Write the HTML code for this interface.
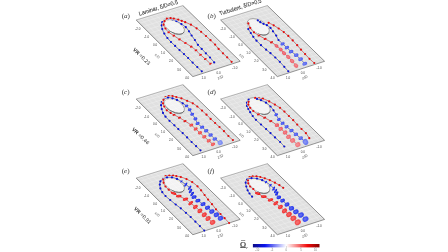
<!DOCTYPE html>
<html><head><meta charset="utf-8"><style>html,body{margin:0;padding:0;background:#fff}body{width:448px;height:252px;overflow:hidden}svg{display:block}</style></head>
<body><svg width="448" height="252" viewBox="0 0 448 252">
<rect width="448" height="252" fill="#fff"/>
<polygon points="136.2,20 182.9,5.6 240.2,61.3 192.9,76.6" fill="#e0e0e0"/>
<path d="M140.87,18.56L197.63,75.07M145.54,17.12L202.36,73.54M150.21,15.68L207.09,72.01M154.88,14.24L211.82,70.48M159.55,12.8L216.55,68.95M164.22,11.36L221.28,67.42M168.89,9.92L226.01,65.89M173.56,8.48L230.74,64.36M178.23,7.04L235.47,62.83M139.54,23.33L186.27,8.88M142.87,26.66L189.64,12.15M146.21,29.99L193.01,15.43M149.54,33.32L196.38,18.71M152.88,36.65L199.75,21.98M156.21,39.98L203.12,25.26M159.55,43.31L206.49,28.54M162.88,46.64L209.86,31.81M166.22,49.96L213.24,35.09M169.55,53.29L216.61,38.36M172.89,56.62L219.98,41.64M176.22,59.95L223.35,44.92M179.56,63.28L226.72,48.19M182.89,66.61L230.09,51.47M186.23,69.94L233.46,54.75M189.56,73.27L236.83,58.02" stroke="#eeeeee" stroke-width="0.55" fill="none"/>
<path d="M137.46,20.65L183,6.6L238.92,60.97" stroke="#eeeeee" stroke-width="0.7" fill="none"/>
<path d="M136.2,20L182.9,5.6" stroke="#9a9a9a" stroke-width="0.7" fill="none"/>
<path d="M182.9,5.6L240.2,61.3" stroke="#7a7a7a" stroke-width="0.85" fill="none"/>
<path d="M136.2,20L192.9,76.6" stroke="#555" stroke-width="0.7" fill="none"/>
<path d="M192.9,76.6L240.2,61.3" stroke="#6a6a6a" stroke-width="0.7" fill="none"/>
<g transform="translate(174.3 26.9) rotate(27)"><ellipse rx="11" ry="6" fill="#ffffff" fill-opacity="0.6" stroke="#7c7c7c" stroke-width="0.6"/><path d="M11,0 A11,6 0 0 1 -7.81,4.26" fill="none" stroke="#666" stroke-width="0.75"/></g>
<polygon points="220.6,20 267.3,5.6 324.6,61.3 277.3,76.6" fill="#e0e0e0"/>
<path d="M225.27,18.56L282.03,75.07M229.94,17.12L286.76,73.54M234.61,15.68L291.49,72.01M239.28,14.24L296.22,70.48M243.95,12.8L300.95,68.95M248.62,11.36L305.68,67.42M253.29,9.92L310.41,65.89M257.96,8.48L315.14,64.36M262.63,7.04L319.87,62.83M223.94,23.33L270.67,8.88M227.27,26.66L274.04,12.15M230.61,29.99L277.41,15.43M233.94,33.32L280.78,18.71M237.28,36.65L284.15,21.98M240.61,39.98L287.52,25.26M243.95,43.31L290.89,28.54M247.28,46.64L294.26,31.81M250.62,49.96L297.64,35.09M253.95,53.29L301.01,38.36M257.29,56.62L304.38,41.64M260.62,59.95L307.75,44.92M263.96,63.28L311.12,48.19M267.29,66.61L314.49,51.47M270.63,69.94L317.86,54.75M273.96,73.27L321.23,58.02" stroke="#eeeeee" stroke-width="0.55" fill="none"/>
<path d="M221.86,20.65L267.4,6.6L323.32,60.97" stroke="#eeeeee" stroke-width="0.7" fill="none"/>
<path d="M220.6,20L267.3,5.6" stroke="#9a9a9a" stroke-width="0.7" fill="none"/>
<path d="M267.3,5.6L324.6,61.3" stroke="#7a7a7a" stroke-width="0.85" fill="none"/>
<path d="M220.6,20L277.3,76.6" stroke="#555" stroke-width="0.7" fill="none"/>
<path d="M277.3,76.6L324.6,61.3" stroke="#6a6a6a" stroke-width="0.7" fill="none"/>
<g transform="translate(258.3 26.8) rotate(29)"><ellipse rx="12.1" ry="6.6" fill="#ffffff" fill-opacity="0.6" stroke="#7c7c7c" stroke-width="0.6"/><path d="M12.1,0 A12.1,6.6 0 0 1 -8.59,4.69" fill="none" stroke="#666" stroke-width="0.75"/></g>
<polygon points="136.2,99.05 182.9,84.65 240.2,140.35 192.9,155.65" fill="#e0e0e0"/>
<path d="M140.87,97.61L197.63,154.12M145.54,96.17L202.36,152.59M150.21,94.73L207.09,151.06M154.88,93.29L211.82,149.53M159.55,91.85L216.55,148M164.22,90.41L221.28,146.47M168.89,88.97L226.01,144.94M173.56,87.53L230.74,143.41M178.23,86.09L235.47,141.88M139.54,102.38L186.27,87.93M142.87,105.71L189.64,91.2M146.21,109.04L193.01,94.48M149.54,112.37L196.38,97.76M152.88,115.7L199.75,101.03M156.21,119.03L203.12,104.31M159.55,122.36L206.49,107.59M162.88,125.69L209.86,110.86M166.22,129.01L213.24,114.14M169.55,132.34L216.61,117.41M172.89,135.67L219.98,120.69M176.22,139L223.35,123.97M179.56,142.33L226.72,127.24M182.89,145.66L230.09,130.52M186.23,148.99L233.46,133.8M189.56,152.32L236.83,137.07" stroke="#eeeeee" stroke-width="0.55" fill="none"/>
<path d="M137.46,99.7L183,85.65L238.92,140.02" stroke="#eeeeee" stroke-width="0.7" fill="none"/>
<path d="M136.2,99.05L182.9,84.65" stroke="#9a9a9a" stroke-width="0.7" fill="none"/>
<path d="M182.9,84.65L240.2,140.35" stroke="#7a7a7a" stroke-width="0.85" fill="none"/>
<path d="M136.2,99.05L192.9,155.65" stroke="#555" stroke-width="0.7" fill="none"/>
<path d="M192.9,155.65L240.2,140.35" stroke="#6a6a6a" stroke-width="0.7" fill="none"/>
<g transform="translate(174.3 105.95) rotate(27)"><ellipse rx="11" ry="6" fill="#ffffff" fill-opacity="0.6" stroke="#7c7c7c" stroke-width="0.6"/><path d="M11,0 A11,6 0 0 1 -7.81,4.26" fill="none" stroke="#666" stroke-width="0.75"/></g>
<polygon points="220.6,99.05 267.3,84.65 324.6,140.35 277.3,155.65" fill="#e0e0e0"/>
<path d="M225.27,97.61L282.03,154.12M229.94,96.17L286.76,152.59M234.61,94.73L291.49,151.06M239.28,93.29L296.22,149.53M243.95,91.85L300.95,148M248.62,90.41L305.68,146.47M253.29,88.97L310.41,144.94M257.96,87.53L315.14,143.41M262.63,86.09L319.87,141.88M223.94,102.38L270.67,87.93M227.27,105.71L274.04,91.2M230.61,109.04L277.41,94.48M233.94,112.37L280.78,97.76M237.28,115.7L284.15,101.03M240.61,119.03L287.52,104.31M243.95,122.36L290.89,107.59M247.28,125.69L294.26,110.86M250.62,129.01L297.64,114.14M253.95,132.34L301.01,117.41M257.29,135.67L304.38,120.69M260.62,139L307.75,123.97M263.96,142.33L311.12,127.24M267.29,145.66L314.49,130.52M270.63,148.99L317.86,133.8M273.96,152.32L321.23,137.07" stroke="#eeeeee" stroke-width="0.55" fill="none"/>
<path d="M221.86,99.7L267.4,85.65L323.32,140.02" stroke="#eeeeee" stroke-width="0.7" fill="none"/>
<path d="M220.6,99.05L267.3,84.65" stroke="#9a9a9a" stroke-width="0.7" fill="none"/>
<path d="M267.3,84.65L324.6,140.35" stroke="#7a7a7a" stroke-width="0.85" fill="none"/>
<path d="M220.6,99.05L277.3,155.65" stroke="#555" stroke-width="0.7" fill="none"/>
<path d="M277.3,155.65L324.6,140.35" stroke="#6a6a6a" stroke-width="0.7" fill="none"/>
<g transform="translate(258.8 106) rotate(27)"><ellipse rx="12.5" ry="6.9" fill="#ffffff" fill-opacity="0.6" stroke="#7c7c7c" stroke-width="0.6"/><path d="M12.5,0 A12.5,6.9 0 0 1 -8.88,4.9" fill="none" stroke="#666" stroke-width="0.75"/></g>
<polygon points="136.2,178.1 182.9,163.7 240.2,219.4 192.9,234.7" fill="#e0e0e0"/>
<path d="M140.87,176.66L197.63,233.17M145.54,175.22L202.36,231.64M150.21,173.78L207.09,230.11M154.88,172.34L211.82,228.58M159.55,170.9L216.55,227.05M164.22,169.46L221.28,225.52M168.89,168.02L226.01,223.99M173.56,166.58L230.74,222.46M178.23,165.14L235.47,220.93M139.54,181.43L186.27,166.98M142.87,184.76L189.64,170.25M146.21,188.09L193.01,173.53M149.54,191.42L196.38,176.81M152.88,194.75L199.75,180.08M156.21,198.08L203.12,183.36M159.55,201.41L206.49,186.64M162.88,204.74L209.86,189.91M166.22,208.06L213.24,193.19M169.55,211.39L216.61,196.46M172.89,214.72L219.98,199.74M176.22,218.05L223.35,203.02M179.56,221.38L226.72,206.29M182.89,224.71L230.09,209.57M186.23,228.04L233.46,212.85M189.56,231.37L236.83,216.12" stroke="#eeeeee" stroke-width="0.55" fill="none"/>
<path d="M137.46,178.75L183,164.7L238.92,219.07" stroke="#eeeeee" stroke-width="0.7" fill="none"/>
<path d="M136.2,178.1L182.9,163.7" stroke="#9a9a9a" stroke-width="0.7" fill="none"/>
<path d="M182.9,163.7L240.2,219.4" stroke="#7a7a7a" stroke-width="0.85" fill="none"/>
<path d="M136.2,178.1L192.9,234.7" stroke="#555" stroke-width="0.7" fill="none"/>
<path d="M192.9,234.7L240.2,219.4" stroke="#6a6a6a" stroke-width="0.7" fill="none"/>
<g transform="translate(174.3 185) rotate(27)"><ellipse rx="11" ry="6" fill="#ffffff" fill-opacity="0.6" stroke="#7c7c7c" stroke-width="0.6"/><path d="M11,0 A11,6 0 0 1 -7.81,4.26" fill="none" stroke="#666" stroke-width="0.75"/></g>
<polygon points="220.6,178.1 267.3,163.7 324.6,219.4 277.3,234.7" fill="#e0e0e0"/>
<path d="M225.27,176.66L282.03,233.17M229.94,175.22L286.76,231.64M234.61,173.78L291.49,230.11M239.28,172.34L296.22,228.58M243.95,170.9L300.95,227.05M248.62,169.46L305.68,225.52M253.29,168.02L310.41,223.99M257.96,166.58L315.14,222.46M262.63,165.14L319.87,220.93M223.94,181.43L270.67,166.98M227.27,184.76L274.04,170.25M230.61,188.09L277.41,173.53M233.94,191.42L280.78,176.81M237.28,194.75L284.15,180.08M240.61,198.08L287.52,183.36M243.95,201.41L290.89,186.64M247.28,204.74L294.26,189.91M250.62,208.06L297.64,193.19M253.95,211.39L301.01,196.46M257.29,214.72L304.38,199.74M260.62,218.05L307.75,203.02M263.96,221.38L311.12,206.29M267.29,224.71L314.49,209.57M270.63,228.04L317.86,212.85M273.96,231.37L321.23,216.12" stroke="#eeeeee" stroke-width="0.55" fill="none"/>
<path d="M221.86,178.75L267.4,164.7L323.32,219.07" stroke="#eeeeee" stroke-width="0.7" fill="none"/>
<path d="M220.6,178.1L267.3,163.7" stroke="#9a9a9a" stroke-width="0.7" fill="none"/>
<path d="M267.3,163.7L324.6,219.4" stroke="#7a7a7a" stroke-width="0.85" fill="none"/>
<path d="M220.6,178.1L277.3,234.7" stroke="#555" stroke-width="0.7" fill="none"/>
<path d="M277.3,234.7L324.6,219.4" stroke="#6a6a6a" stroke-width="0.7" fill="none"/>
<g transform="translate(258.8 185.2) rotate(28)"><ellipse rx="12.1" ry="6.6" fill="#ffffff" fill-opacity="0.6" stroke="#7c7c7c" stroke-width="0.6"/><path d="M12.1,0 A12.1,6.6 0 0 1 -8.59,4.69" fill="none" stroke="#666" stroke-width="0.75"/></g>
<path d="M214.2,62.4C213.5,61.58 211.38,59.02 210,57.5C208.62,55.98 207.28,54.73 205.9,53.3C204.52,51.87 203.03,50.32 201.7,48.9C200.37,47.48 199.03,46.28 197.9,44.8C196.77,43.32 195.95,41.55 194.9,40C193.85,38.45 192.58,36.95 191.6,35.5C190.62,34.05 189.97,32.68 189,31.3C188.03,29.92 187.07,28.4 185.8,27.2C184.53,26 182.98,25.12 181.4,24.1C179.82,23.08 177.78,21.88 176.3,21.1C174.82,20.32 173.8,19.78 172.5,19.4C171.2,19.02 169.77,18.72 168.5,18.8C167.23,18.88 165.93,19.33 164.9,19.9C163.87,20.47 162.83,21.3 162.3,22.2C161.77,23.1 161.7,24.15 161.7,25.3C161.7,26.45 161.87,27.72 162.3,29.1C162.73,30.48 163.45,32.12 164.3,33.6C165.15,35.08 166.28,36.6 167.4,38C168.52,39.4 169.72,40.68 171,42C172.28,43.32 173.68,44.55 175.1,45.9C176.52,47.25 178.02,48.73 179.5,50.1C180.98,51.47 182.57,52.78 184,54.1C185.43,55.42 186.67,56.58 188.1,58C189.53,59.42 191.07,61.08 192.6,62.6C194.13,64.12 195.77,65.65 197.3,67.1C198.83,68.55 201.05,70.6 201.8,71.3" stroke="#f5f0c4" stroke-width="2.6" fill="none" stroke-linecap="round" stroke-linejoin="round"/>
<path d="M214.2,62.4C213.5,61.58 211.38,59.02 210,57.5C208.62,55.98 207.28,54.73 205.9,53.3C204.52,51.87 203.03,50.32 201.7,48.9C200.37,47.48 199.03,46.28 197.9,44.8C196.77,43.32 195.95,41.55 194.9,40C193.85,38.45 192.58,36.95 191.6,35.5C190.62,34.05 189.97,32.68 189,31.3C188.03,29.92 187.07,28.4 185.8,27.2C184.53,26 182.98,25.12 181.4,24.1C179.82,23.08 177.78,21.88 176.3,21.1C174.82,20.32 173.8,19.78 172.5,19.4C171.2,19.02 169.77,18.72 168.5,18.8C167.23,18.88 165.93,19.33 164.9,19.9C163.87,20.47 162.83,21.3 162.3,22.2C161.77,23.1 161.7,24.15 161.7,25.3C161.7,26.45 161.87,27.72 162.3,29.1C162.73,30.48 163.45,32.12 164.3,33.6C165.15,35.08 166.28,36.6 167.4,38C168.52,39.4 169.72,40.68 171,42C172.28,43.32 173.68,44.55 175.1,45.9C176.52,47.25 178.02,48.73 179.5,50.1C180.98,51.47 182.57,52.78 184,54.1C185.43,55.42 186.67,56.58 188.1,58C189.53,59.42 191.07,61.08 192.6,62.6C194.13,64.12 195.77,65.65 197.3,67.1C198.83,68.55 201.05,70.6 201.8,71.3" stroke="#3848f0" stroke-width="0.85" fill="none"/>
<circle cx="214.2" cy="62.4" r="1.12" fill="#0c14d2"/>
<circle cx="210" cy="57.5" r="1.12" fill="#0c14d2"/>
<circle cx="205.9" cy="53.3" r="1.12" fill="#0c14d2"/>
<circle cx="201.7" cy="48.9" r="1.12" fill="#0c14d2"/>
<circle cx="197.9" cy="44.8" r="1.12" fill="#0c14d2"/>
<circle cx="194.9" cy="40" r="1.12" fill="#0c14d2"/>
<circle cx="191.6" cy="35.5" r="1.12" fill="#0c14d2"/>
<circle cx="189" cy="31.3" r="1.12" fill="#0c14d2"/>
<circle cx="185.8" cy="27.2" r="1.12" fill="#0c14d2"/>
<circle cx="181.4" cy="24.1" r="1.12" fill="#0c14d2"/>
<circle cx="176.3" cy="21.1" r="1.12" fill="#0c14d2"/>
<circle cx="172.5" cy="19.4" r="1.12" fill="#0c14d2"/>
<circle cx="168.5" cy="18.8" r="1.12" fill="#0c14d2"/>
<circle cx="164.9" cy="19.9" r="1.12" fill="#0c14d2"/>
<circle cx="162.3" cy="22.2" r="1.12" fill="#0c14d2"/>
<circle cx="161.7" cy="25.3" r="1.12" fill="#0c14d2"/>
<circle cx="162.3" cy="29.1" r="1.12" fill="#0c14d2"/>
<circle cx="164.3" cy="33.6" r="1.12" fill="#0c14d2"/>
<circle cx="167.4" cy="38" r="1.12" fill="#0c14d2"/>
<circle cx="171" cy="42" r="1.12" fill="#0c14d2"/>
<circle cx="175.1" cy="45.9" r="1.12" fill="#0c14d2"/>
<circle cx="179.5" cy="50.1" r="1.12" fill="#0c14d2"/>
<circle cx="184" cy="54.1" r="1.12" fill="#0c14d2"/>
<circle cx="188.1" cy="58" r="1.12" fill="#0c14d2"/>
<circle cx="192.6" cy="62.6" r="1.12" fill="#0c14d2"/>
<circle cx="197.3" cy="67.1" r="1.12" fill="#0c14d2"/>
<circle cx="201.8" cy="71.3" r="1.12" fill="#0c14d2"/>
<path d="M210.4,63.7C209.55,62.92 206.95,60.48 205.3,59C203.65,57.52 202.05,56.25 200.5,54.8C198.95,53.35 197.55,51.67 196,50.3C194.45,48.93 192.97,47.82 191.2,46.6C189.43,45.38 187.35,44.2 185.4,43C183.45,41.8 181.43,40.63 179.5,39.4C177.57,38.17 175.6,36.78 173.8,35.6C172,34.42 170.08,33.48 168.7,32.3C167.32,31.12 166.35,29.77 165.5,28.5C164.65,27.23 163.77,25.92 163.6,24.7C163.43,23.48 163.97,22.22 164.5,21.2C165.03,20.18 165.78,19.12 166.8,18.6C167.82,18.08 169.43,18.1 170.6,18.1C171.77,18.1 172.53,18.35 173.8,18.6C175.07,18.85 176.88,19.23 178.2,19.6C179.52,19.97 180.53,20.37 181.7,20.8C182.87,21.23 183.67,21.55 185.2,22.2C186.73,22.85 189,23.68 190.9,24.7C192.8,25.72 194.9,27.12 196.6,28.3C198.3,29.48 199.53,30.52 201.1,31.8C202.67,33.08 204.43,34.6 206,36C207.57,37.4 208.98,38.77 210.5,40.2C212.02,41.63 213.75,43.15 215.1,44.6C216.45,46.05 217.28,47.45 218.6,48.9C219.92,50.35 221.57,51.9 223,53.3C224.43,54.7 225.77,55.88 227.2,57.3C228.63,58.72 230.87,61.05 231.6,61.8" stroke="#cdeff0" stroke-width="2.6" fill="none" stroke-linecap="round" stroke-linejoin="round"/>
<path d="M210.4,63.7C209.55,62.92 206.95,60.48 205.3,59C203.65,57.52 202.05,56.25 200.5,54.8C198.95,53.35 197.55,51.67 196,50.3C194.45,48.93 192.97,47.82 191.2,46.6C189.43,45.38 187.35,44.2 185.4,43C183.45,41.8 181.43,40.63 179.5,39.4C177.57,38.17 175.6,36.78 173.8,35.6C172,34.42 170.08,33.48 168.7,32.3C167.32,31.12 166.35,29.77 165.5,28.5C164.65,27.23 163.77,25.92 163.6,24.7C163.43,23.48 163.97,22.22 164.5,21.2C165.03,20.18 165.78,19.12 166.8,18.6C167.82,18.08 169.43,18.1 170.6,18.1C171.77,18.1 172.53,18.35 173.8,18.6C175.07,18.85 176.88,19.23 178.2,19.6C179.52,19.97 180.53,20.37 181.7,20.8C182.87,21.23 183.67,21.55 185.2,22.2C186.73,22.85 189,23.68 190.9,24.7C192.8,25.72 194.9,27.12 196.6,28.3C198.3,29.48 199.53,30.52 201.1,31.8C202.67,33.08 204.43,34.6 206,36C207.57,37.4 208.98,38.77 210.5,40.2C212.02,41.63 213.75,43.15 215.1,44.6C216.45,46.05 217.28,47.45 218.6,48.9C219.92,50.35 221.57,51.9 223,53.3C224.43,54.7 225.77,55.88 227.2,57.3C228.63,58.72 230.87,61.05 231.6,61.8" stroke="#f04a4a" stroke-width="0.85" fill="none"/>
<ellipse cx="210.4" cy="63.7" rx="1.5" ry="0.9" transform="rotate(-25 210.4 63.7)" fill="#e81818"/>
<ellipse cx="205.3" cy="59" rx="1.49" ry="0.89" transform="rotate(-25 205.3 59)" fill="#e81818"/>
<ellipse cx="200.5" cy="54.8" rx="1.48" ry="0.89" transform="rotate(-25 200.5 54.8)" fill="#e81818"/>
<ellipse cx="196" cy="50.3" rx="1.46" ry="0.88" transform="rotate(-25 196 50.3)" fill="#e81818"/>
<ellipse cx="191.2" cy="46.6" rx="1.45" ry="0.88" transform="rotate(-25 191.2 46.6)" fill="#e81818"/>
<ellipse cx="185.4" cy="43" rx="1.44" ry="0.87" transform="rotate(-25 185.4 43)" fill="#e81818"/>
<ellipse cx="179.5" cy="39.4" rx="1.42" ry="0.86" transform="rotate(-25 179.5 39.4)" fill="#e81818"/>
<ellipse cx="173.8" cy="35.6" rx="1.41" ry="0.86" transform="rotate(-25 173.8 35.6)" fill="#e81818"/>
<ellipse cx="168.7" cy="32.3" rx="1.4" ry="0.85" transform="rotate(-25 168.7 32.3)" fill="#e81818"/>
<circle cx="165.5" cy="28.5" r="1.12" fill="#e01010"/>
<circle cx="163.6" cy="24.7" r="1.12" fill="#e01010"/>
<circle cx="164.5" cy="21.2" r="1.12" fill="#e01010"/>
<circle cx="166.8" cy="18.6" r="1.12" fill="#e01010"/>
<circle cx="170.6" cy="18.1" r="1.12" fill="#e01010"/>
<circle cx="173.8" cy="18.6" r="1.12" fill="#e01010"/>
<circle cx="178.2" cy="19.6" r="1.12" fill="#e01010"/>
<circle cx="181.7" cy="20.8" r="1.12" fill="#e01010"/>
<circle cx="185.2" cy="22.2" r="1.12" fill="#e01010"/>
<circle cx="190.9" cy="24.7" r="1.12" fill="#e01010"/>
<circle cx="196.6" cy="28.3" r="1.12" fill="#e01010"/>
<circle cx="201.1" cy="31.8" r="1.12" fill="#e01010"/>
<circle cx="206" cy="36" r="1.12" fill="#e01010"/>
<circle cx="210.5" cy="40.2" r="1.12" fill="#e01010"/>
<circle cx="215.1" cy="44.6" r="1.12" fill="#e01010"/>
<circle cx="218.6" cy="48.9" r="1.12" fill="#e01010"/>
<circle cx="223" cy="53.3" r="1.12" fill="#e01010"/>
<circle cx="227.2" cy="57.3" r="1.12" fill="#e01010"/>
<circle cx="231.6" cy="61.8" r="1.12" fill="#e01010"/>
<path d="M248.3,29.1C248.72,29.75 249.97,31.72 250.8,33C251.63,34.28 252.35,35.52 253.3,36.8C254.25,38.08 255.22,39.3 256.5,40.7C257.78,42.1 259.4,43.7 261,45.2C262.6,46.7 264.52,48.37 266.1,49.7C267.68,51.03 268.97,51.9 270.5,53.2C272.03,54.5 273.75,56.07 275.3,57.5C276.85,58.93 278.3,60.25 279.8,61.8C281.3,63.35 282.88,65.22 284.3,66.8C285.72,68.38 287.63,70.55 288.3,71.3" stroke="#f5f0c4" stroke-width="2.6" fill="none" stroke-linecap="round" stroke-linejoin="round"/>
<path d="M248.3,29.1C248.72,29.75 249.97,31.72 250.8,33C251.63,34.28 252.35,35.52 253.3,36.8C254.25,38.08 255.22,39.3 256.5,40.7C257.78,42.1 259.4,43.7 261,45.2C262.6,46.7 264.52,48.37 266.1,49.7C267.68,51.03 268.97,51.9 270.5,53.2C272.03,54.5 273.75,56.07 275.3,57.5C276.85,58.93 278.3,60.25 279.8,61.8C281.3,63.35 282.88,65.22 284.3,66.8C285.72,68.38 287.63,70.55 288.3,71.3" stroke="#3848f0" stroke-width="0.85" fill="none"/>
<circle cx="248.3" cy="29.1" r="1.12" fill="#0c14d2"/>
<circle cx="250.8" cy="33" r="1.12" fill="#0c14d2"/>
<circle cx="253.3" cy="36.8" r="1.12" fill="#0c14d2"/>
<circle cx="256.5" cy="40.7" r="1.12" fill="#0c14d2"/>
<circle cx="261" cy="45.2" r="1.12" fill="#0c14d2"/>
<circle cx="266.1" cy="49.7" r="1.12" fill="#0c14d2"/>
<circle cx="270.5" cy="53.2" r="1.12" fill="#0c14d2"/>
<circle cx="275.3" cy="57.5" r="1.12" fill="#0c14d2"/>
<circle cx="279.8" cy="61.8" r="1.12" fill="#0c14d2"/>
<circle cx="284.3" cy="66.8" r="1.12" fill="#0c14d2"/>
<circle cx="288.3" cy="71.3" r="1.12" fill="#0c14d2"/>
<path d="M268.6,22.8C269.45,23.22 272.02,24.35 273.7,25.3C275.38,26.25 277.02,27.37 278.7,28.5C280.38,29.63 282.2,30.87 283.8,32.1C285.4,33.33 286.82,34.52 288.3,35.9C289.78,37.28 291.22,38.85 292.7,40.4C294.18,41.95 295.82,43.65 297.2,45.2C298.58,46.75 299.68,48.22 301,49.7C302.32,51.18 303.68,52.58 305.1,54.1C306.52,55.62 307.97,57.32 309.5,58.8C311.03,60.28 313.5,62.3 314.3,63" stroke="#cdeff0" stroke-width="2.6" fill="none" stroke-linecap="round" stroke-linejoin="round"/>
<path d="M268.6,22.8C269.45,23.22 272.02,24.35 273.7,25.3C275.38,26.25 277.02,27.37 278.7,28.5C280.38,29.63 282.2,30.87 283.8,32.1C285.4,33.33 286.82,34.52 288.3,35.9C289.78,37.28 291.22,38.85 292.7,40.4C294.18,41.95 295.82,43.65 297.2,45.2C298.58,46.75 299.68,48.22 301,49.7C302.32,51.18 303.68,52.58 305.1,54.1C306.52,55.62 307.97,57.32 309.5,58.8C311.03,60.28 313.5,62.3 314.3,63" stroke="#f04a4a" stroke-width="0.85" fill="none"/>
<circle cx="268.6" cy="22.8" r="1.12" fill="#e01010"/>
<circle cx="273.7" cy="25.3" r="1.12" fill="#e01010"/>
<circle cx="278.7" cy="28.5" r="1.12" fill="#e01010"/>
<circle cx="283.8" cy="32.1" r="1.12" fill="#e01010"/>
<circle cx="288.3" cy="35.9" r="1.12" fill="#e01010"/>
<circle cx="292.7" cy="40.4" r="1.12" fill="#e01010"/>
<circle cx="297.2" cy="45.2" r="1.12" fill="#e01010"/>
<circle cx="301" cy="49.7" r="1.12" fill="#e01010"/>
<circle cx="305.1" cy="54.1" r="1.12" fill="#e01010"/>
<circle cx="309.5" cy="58.8" r="1.12" fill="#e01010"/>
<circle cx="314.3" cy="63" r="1.12" fill="#e01010"/>
<path d="M248.3,23.4C248.62,24.15 249.25,26.42 250.2,27.9C251.15,29.38 252.53,31.03 254,32.3C255.47,33.57 257.15,34.4 259,35.5C260.85,36.6 263.02,37.77 265.1,38.9C267.18,40.03 269.6,41.13 271.5,42.3C273.4,43.47 274.97,44.7 276.5,45.9C278.03,47.1 279.45,48.28 280.7,49.5C281.95,50.72 282.73,51.95 284,53.2C285.27,54.45 286.95,55.68 288.3,57C289.65,58.32 290.82,59.67 292.1,61.1C293.38,62.53 295.35,64.85 296,65.6" stroke="#cdeff0" stroke-width="2.6" fill="none" stroke-linecap="round" stroke-linejoin="round"/>
<path d="M248.3,23.4C248.62,24.15 249.25,26.42 250.2,27.9C251.15,29.38 252.53,31.03 254,32.3C255.47,33.57 257.15,34.4 259,35.5C260.85,36.6 263.02,37.77 265.1,38.9C267.18,40.03 269.6,41.13 271.5,42.3C273.4,43.47 274.97,44.7 276.5,45.9C278.03,47.1 279.45,48.28 280.7,49.5C281.95,50.72 282.73,51.95 284,53.2C285.27,54.45 286.95,55.68 288.3,57C289.65,58.32 290.82,59.67 292.1,61.1C293.38,62.53 295.35,64.85 296,65.6" stroke="#f04a4a" stroke-width="0.85" fill="none"/>
<circle cx="248.3" cy="23.4" r="1.12" fill="#e01010"/>
<circle cx="250.2" cy="27.9" r="1.12" fill="#e01010"/>
<circle cx="254" cy="32.3" r="1.12" fill="#e01010"/>
<ellipse cx="259" cy="35.5" rx="1.6" ry="0.9" transform="rotate(-25 259 35.5)" fill="#e01818"/>
<ellipse cx="265.1" cy="38.9" rx="1.65" ry="0.93" transform="rotate(-25 265.1 38.9)" fill="#e01818"/>
<ellipse cx="271.5" cy="42.3" rx="1.7" ry="0.95" transform="rotate(-25 271.5 42.3)" fill="#e01818"/>
<ellipse cx="276.5" cy="45.9" rx="2.2" ry="1.6" transform="rotate(35 276.5 45.9)" fill="#ee5a66"/>
<ellipse cx="276.2" cy="45.7" rx="1.21" ry="0.8" transform="rotate(35 276.5 45.9)" fill="#f0747e"/>
<ellipse cx="280.7" cy="49.5" rx="2.26" ry="1.68" transform="rotate(35 280.7 49.5)" fill="#ee5e69"/>
<ellipse cx="280.4" cy="49.3" rx="1.24" ry="0.84" transform="rotate(35 280.7 49.5)" fill="#f07781"/>
<ellipse cx="284" cy="53.2" rx="2.32" ry="1.76" transform="rotate(35 284 53.2)" fill="#ee626d"/>
<ellipse cx="283.7" cy="53" rx="1.28" ry="0.88" transform="rotate(35 284 53.2)" fill="#f07b84"/>
<ellipse cx="288.3" cy="57" rx="2.38" ry="1.84" transform="rotate(35 288.3 57)" fill="#ef6770"/>
<ellipse cx="288" cy="56.8" rx="1.31" ry="0.92" transform="rotate(35 288.3 57)" fill="#f17f86"/>
<ellipse cx="292.1" cy="61.1" rx="2.44" ry="1.92" transform="rotate(35 292.1 61.1)" fill="#ef6b74"/>
<ellipse cx="291.8" cy="60.9" rx="1.34" ry="0.96" transform="rotate(35 292.1 61.1)" fill="#f1828a"/>
<ellipse cx="296" cy="65.6" rx="2.5" ry="2" transform="rotate(35 296 65.6)" fill="#f07078"/>
<ellipse cx="295.7" cy="65.4" rx="1.38" ry="1" transform="rotate(35 296 65.6)" fill="#f2868d"/>
<path d="M257.8,20.3C258.22,20.62 259.35,21.62 260.3,22.2C261.25,22.78 262.4,23.3 263.5,23.8C264.6,24.3 265.73,24.52 266.9,25.2C268.07,25.88 269.48,26.88 270.5,27.9C271.52,28.92 272.05,30.02 273,31.3C273.95,32.58 275.28,34.15 276.2,35.6C277.12,37.05 277.43,38.62 278.5,40C279.57,41.38 281.2,42.63 282.6,43.9C284,45.17 285.48,46.32 286.9,47.6C288.32,48.88 289.55,50.35 291.1,51.6C292.65,52.85 294.62,53.83 296.2,55.1C297.78,56.37 299.17,57.77 300.6,59.2C302.03,60.63 304.1,62.95 304.8,63.7" stroke="#f5f0c4" stroke-width="2.6" fill="none" stroke-linecap="round" stroke-linejoin="round"/>
<path d="M257.8,20.3C258.22,20.62 259.35,21.62 260.3,22.2C261.25,22.78 262.4,23.3 263.5,23.8C264.6,24.3 265.73,24.52 266.9,25.2C268.07,25.88 269.48,26.88 270.5,27.9C271.52,28.92 272.05,30.02 273,31.3C273.95,32.58 275.28,34.15 276.2,35.6C277.12,37.05 277.43,38.62 278.5,40C279.57,41.38 281.2,42.63 282.6,43.9C284,45.17 285.48,46.32 286.9,47.6C288.32,48.88 289.55,50.35 291.1,51.6C292.65,52.85 294.62,53.83 296.2,55.1C297.78,56.37 299.17,57.77 300.6,59.2C302.03,60.63 304.1,62.95 304.8,63.7" stroke="#3848f0" stroke-width="0.85" fill="none"/>
<circle cx="257.8" cy="20.3" r="1.12" fill="#0c14d2"/>
<circle cx="260.3" cy="22.2" r="1.12" fill="#0c14d2"/>
<circle cx="263.5" cy="23.8" r="1.12" fill="#0c14d2"/>
<circle cx="266.9" cy="25.2" r="1.12" fill="#0c14d2"/>
<circle cx="270.5" cy="27.9" r="1.12" fill="#0c14d2"/>
<circle cx="273" cy="31.3" r="1.12" fill="#0c14d2"/>
<circle cx="276.2" cy="35.6" r="1.12" fill="#0c14d2"/>
<circle cx="278.5" cy="40" r="1.12" fill="#0c14d2"/>
<ellipse cx="282.6" cy="43.9" rx="2.3" ry="1.5" transform="rotate(-22 282.6 43.9)" fill="#4a5af0"/>
<ellipse cx="282.3" cy="43.7" rx="1.26" ry="0.75" transform="rotate(-22 282.6 43.9)" fill="#6674f2"/>
<ellipse cx="286.9" cy="47.6" rx="2.36" ry="1.56" transform="rotate(-22 286.9 47.6)" fill="#4d5df0"/>
<ellipse cx="286.6" cy="47.4" rx="1.3" ry="0.78" transform="rotate(-22 286.9 47.6)" fill="#6976f2"/>
<ellipse cx="291.1" cy="51.6" rx="2.42" ry="1.62" transform="rotate(-22 291.1 51.6)" fill="#5060f0"/>
<ellipse cx="290.8" cy="51.4" rx="1.33" ry="0.81" transform="rotate(-22 291.1 51.6)" fill="#6c79f2"/>
<ellipse cx="296.2" cy="55.1" rx="2.48" ry="1.68" transform="rotate(-22 296.2 55.1)" fill="#5363f0"/>
<ellipse cx="295.9" cy="54.9" rx="1.36" ry="0.84" transform="rotate(-22 296.2 55.1)" fill="#6e7bf2"/>
<ellipse cx="300.6" cy="59.2" rx="2.54" ry="1.74" transform="rotate(-22 300.6 59.2)" fill="#5666f0"/>
<ellipse cx="300.3" cy="59" rx="1.4" ry="0.87" transform="rotate(-22 300.6 59.2)" fill="#717ef2"/>
<ellipse cx="304.8" cy="63.7" rx="2.6" ry="1.8" transform="rotate(-22 304.8 63.7)" fill="#5a6af0"/>
<ellipse cx="304.5" cy="63.5" rx="1.43" ry="0.9" transform="rotate(-22 304.8 63.7)" fill="#7481f2"/>
<path d="M165.5,97C166.03,96.85 167.53,96.25 168.7,96.1C169.87,95.95 171.23,95.95 172.5,96.1C173.77,96.25 174.82,96.63 176.3,97C177.78,97.37 179.6,97.67 181.4,98.3C183.2,98.93 185.2,99.97 187.1,100.8C189,101.63 191.1,102.35 192.8,103.3C194.5,104.25 195.77,105.28 197.3,106.5C198.83,107.72 200.47,109.23 202,110.6C203.53,111.97 205.07,113.32 206.5,114.7C207.93,116.08 209.17,117.52 210.6,118.9C212.03,120.28 213.62,121.65 215.1,123C216.58,124.35 218.02,125.63 219.5,127C220.98,128.37 222.52,129.7 224,131.2C225.48,132.7 226.92,134.52 228.4,136C229.88,137.48 232.15,139.42 232.9,140.1" stroke="#cdeff0" stroke-width="2.6" fill="none" stroke-linecap="round" stroke-linejoin="round"/>
<path d="M165.5,97C166.03,96.85 167.53,96.25 168.7,96.1C169.87,95.95 171.23,95.95 172.5,96.1C173.77,96.25 174.82,96.63 176.3,97C177.78,97.37 179.6,97.67 181.4,98.3C183.2,98.93 185.2,99.97 187.1,100.8C189,101.63 191.1,102.35 192.8,103.3C194.5,104.25 195.77,105.28 197.3,106.5C198.83,107.72 200.47,109.23 202,110.6C203.53,111.97 205.07,113.32 206.5,114.7C207.93,116.08 209.17,117.52 210.6,118.9C212.03,120.28 213.62,121.65 215.1,123C216.58,124.35 218.02,125.63 219.5,127C220.98,128.37 222.52,129.7 224,131.2C225.48,132.7 226.92,134.52 228.4,136C229.88,137.48 232.15,139.42 232.9,140.1" stroke="#f04a4a" stroke-width="0.85" fill="none"/>
<circle cx="165.5" cy="97" r="1.12" fill="#e01010"/>
<circle cx="168.7" cy="96.1" r="1.12" fill="#e01010"/>
<circle cx="172.5" cy="96.1" r="1.12" fill="#e01010"/>
<circle cx="176.3" cy="97" r="1.12" fill="#e01010"/>
<circle cx="181.4" cy="98.3" r="1.12" fill="#e01010"/>
<circle cx="187.1" cy="100.8" r="1.12" fill="#e01010"/>
<circle cx="192.8" cy="103.3" r="1.12" fill="#e01010"/>
<circle cx="197.3" cy="106.5" r="1.12" fill="#e01010"/>
<circle cx="202" cy="110.6" r="1.12" fill="#e01010"/>
<circle cx="206.5" cy="114.7" r="1.12" fill="#e01010"/>
<circle cx="210.6" cy="118.9" r="1.12" fill="#e01010"/>
<circle cx="215.1" cy="123" r="1.12" fill="#e01010"/>
<circle cx="219.5" cy="127" r="1.12" fill="#e01010"/>
<circle cx="224" cy="131.2" r="1.12" fill="#e01010"/>
<circle cx="228.4" cy="136" r="1.12" fill="#e01010"/>
<circle cx="232.9" cy="140.1" r="1.12" fill="#e01010"/>
<path d="M220.2,142.7C219.3,142.08 216.4,140.28 214.8,139C213.2,137.72 212.03,136.38 210.6,135C209.17,133.62 207.62,132 206.2,130.7C204.78,129.4 203.53,128.42 202.1,127.2C200.67,125.98 198.72,124.78 197.6,123.4C196.48,122.02 196.3,120.43 195.4,118.9C194.5,117.37 193.15,115.73 192.2,114.2C191.25,112.67 190.65,111.08 189.7,109.7C188.75,108.32 187.67,106.97 186.5,105.9C185.33,104.83 184.28,104.3 182.7,103.3C181.12,102.3 178.7,100.73 177,99.9C175.3,99.07 174,98.68 172.5,98.3C171,97.92 169.48,97.4 168,97.6C166.52,97.8 164.65,98.77 163.6,99.5C162.55,100.23 162.12,101.05 161.7,102C161.28,102.95 161.1,104.03 161.1,105.2C161.1,106.37 161.38,107.72 161.7,109C162.02,110.28 162.37,111.62 163,112.9C163.63,114.18 164.42,115.38 165.5,116.7C166.58,118.02 168.02,119.37 169.5,120.8C170.98,122.23 172.93,123.92 174.4,125.3C175.87,126.68 176.92,127.8 178.3,129.1C179.68,130.4 181.23,131.72 182.7,133.1C184.17,134.48 185.62,135.92 187.1,137.4C188.58,138.88 190.1,140.53 191.6,142C193.1,143.47 194.62,144.82 196.1,146.2C197.58,147.58 199.77,149.62 200.5,150.3" stroke="#f5f0c4" stroke-width="2.6" fill="none" stroke-linecap="round" stroke-linejoin="round"/>
<path d="M220.2,142.7C219.3,142.08 216.4,140.28 214.8,139C213.2,137.72 212.03,136.38 210.6,135C209.17,133.62 207.62,132 206.2,130.7C204.78,129.4 203.53,128.42 202.1,127.2C200.67,125.98 198.72,124.78 197.6,123.4C196.48,122.02 196.3,120.43 195.4,118.9C194.5,117.37 193.15,115.73 192.2,114.2C191.25,112.67 190.65,111.08 189.7,109.7C188.75,108.32 187.67,106.97 186.5,105.9C185.33,104.83 184.28,104.3 182.7,103.3C181.12,102.3 178.7,100.73 177,99.9C175.3,99.07 174,98.68 172.5,98.3C171,97.92 169.48,97.4 168,97.6C166.52,97.8 164.65,98.77 163.6,99.5C162.55,100.23 162.12,101.05 161.7,102C161.28,102.95 161.1,104.03 161.1,105.2C161.1,106.37 161.38,107.72 161.7,109C162.02,110.28 162.37,111.62 163,112.9C163.63,114.18 164.42,115.38 165.5,116.7C166.58,118.02 168.02,119.37 169.5,120.8C170.98,122.23 172.93,123.92 174.4,125.3C175.87,126.68 176.92,127.8 178.3,129.1C179.68,130.4 181.23,131.72 182.7,133.1C184.17,134.48 185.62,135.92 187.1,137.4C188.58,138.88 190.1,140.53 191.6,142C193.1,143.47 194.62,144.82 196.1,146.2C197.58,147.58 199.77,149.62 200.5,150.3" stroke="#3848f0" stroke-width="0.85" fill="none"/>
<ellipse cx="220.2" cy="142.7" rx="2.6" ry="2.5" transform="rotate(-30 220.2 142.7)" fill="#7f8ff2"/>
<ellipse cx="219.9" cy="142.5" rx="1.43" ry="1.25" transform="rotate(-30 220.2 142.7)" fill="#93a0f4"/>
<ellipse cx="214.8" cy="139" rx="2.43" ry="1.64" transform="rotate(-20 214.8 139)" fill="#4e5ef0"/>
<ellipse cx="214.5" cy="138.8" rx="1.34" ry="0.82" transform="rotate(-20 214.8 139)" fill="#6a77f2"/>
<ellipse cx="210.6" cy="135" rx="2.37" ry="1.59" transform="rotate(-20 210.6 135)" fill="#4a5af0"/>
<ellipse cx="210.3" cy="134.8" rx="1.3" ry="0.79" transform="rotate(-20 210.6 135)" fill="#6674f2"/>
<ellipse cx="206.2" cy="130.7" rx="2.3" ry="1.53" transform="rotate(-20 206.2 130.7)" fill="#4656f0"/>
<ellipse cx="205.9" cy="130.5" rx="1.26" ry="0.77" transform="rotate(-20 206.2 130.7)" fill="#6371f2"/>
<ellipse cx="202.1" cy="127.2" rx="2.23" ry="1.48" transform="rotate(-20 202.1 127.2)" fill="#4252f0"/>
<ellipse cx="201.8" cy="127" rx="1.23" ry="0.74" transform="rotate(-20 202.1 127.2)" fill="#606df2"/>
<ellipse cx="197.6" cy="123.4" rx="2.17" ry="1.42" transform="rotate(-20 197.6 123.4)" fill="#3f4ff0"/>
<ellipse cx="197.3" cy="123.2" rx="1.19" ry="0.71" transform="rotate(-20 197.6 123.4)" fill="#5d6bf2"/>
<ellipse cx="195.4" cy="118.9" rx="2.1" ry="1.37" transform="rotate(-20 195.4 118.9)" fill="#3b4bf0"/>
<ellipse cx="195.1" cy="118.7" rx="1.16" ry="0.68" transform="rotate(-20 195.4 118.9)" fill="#5a67f2"/>
<ellipse cx="192.2" cy="114.2" rx="2.03" ry="1.31" transform="rotate(-20 192.2 114.2)" fill="#3747f0"/>
<ellipse cx="191.9" cy="114" rx="1.12" ry="0.66" transform="rotate(-20 192.2 114.2)" fill="#5764f2"/>
<ellipse cx="189.7" cy="109.7" rx="1.97" ry="1.26" transform="rotate(-20 189.7 109.7)" fill="#3343f0"/>
<ellipse cx="189.4" cy="109.5" rx="1.08" ry="0.63" transform="rotate(-20 189.7 109.7)" fill="#5361f2"/>
<ellipse cx="186.5" cy="105.9" rx="1.9" ry="1.2" transform="rotate(-20 186.5 105.9)" fill="#3040f0"/>
<ellipse cx="186.2" cy="105.7" rx="1.04" ry="0.6" transform="rotate(-20 186.5 105.9)" fill="#515ef2"/>
<circle cx="182.7" cy="103.3" r="1.12" fill="#0c14d2"/>
<circle cx="177" cy="99.9" r="1.12" fill="#0c14d2"/>
<circle cx="172.5" cy="98.3" r="1.12" fill="#0c14d2"/>
<circle cx="168" cy="97.6" r="1.12" fill="#0c14d2"/>
<circle cx="163.6" cy="99.5" r="1.12" fill="#0c14d2"/>
<circle cx="161.7" cy="102" r="1.12" fill="#0c14d2"/>
<circle cx="161.1" cy="105.2" r="1.12" fill="#0c14d2"/>
<circle cx="161.7" cy="109" r="1.12" fill="#0c14d2"/>
<circle cx="163" cy="112.9" r="1.12" fill="#0c14d2"/>
<circle cx="165.5" cy="116.7" r="1.12" fill="#0c14d2"/>
<circle cx="169.5" cy="120.8" r="1.12" fill="#0c14d2"/>
<circle cx="174.4" cy="125.3" r="1.12" fill="#0c14d2"/>
<circle cx="178.3" cy="129.1" r="1.12" fill="#0c14d2"/>
<circle cx="182.7" cy="133.1" r="1.12" fill="#0c14d2"/>
<circle cx="187.1" cy="137.4" r="1.12" fill="#0c14d2"/>
<circle cx="191.6" cy="142" r="1.12" fill="#0c14d2"/>
<circle cx="196.1" cy="146.2" r="1.12" fill="#0c14d2"/>
<circle cx="200.5" cy="150.3" r="1.12" fill="#0c14d2"/>
<path d="M163.5,99.8C163.42,100.38 162.87,102.18 163,103.3C163.13,104.42 163.67,105.33 164.3,106.5C164.93,107.67 165.75,109.23 166.8,110.3C167.85,111.37 169.4,112.15 170.6,112.9C171.8,113.65 172.52,114 174,114.8C175.48,115.6 177.67,116.65 179.5,117.7C181.33,118.75 183.03,119.87 185,121.1C186.97,122.33 189.52,123.78 191.3,125.1C193.08,126.42 194.25,127.72 195.7,129C197.15,130.28 198.57,131.5 200,132.8C201.43,134.1 202.83,135.47 204.3,136.8C205.77,138.13 207.35,139.55 208.8,140.8C210.25,142.05 212.3,143.72 213,144.3" stroke="#cdeff0" stroke-width="2.6" fill="none" stroke-linecap="round" stroke-linejoin="round"/>
<path d="M163.5,99.8C163.42,100.38 162.87,102.18 163,103.3C163.13,104.42 163.67,105.33 164.3,106.5C164.93,107.67 165.75,109.23 166.8,110.3C167.85,111.37 169.4,112.15 170.6,112.9C171.8,113.65 172.52,114 174,114.8C175.48,115.6 177.67,116.65 179.5,117.7C181.33,118.75 183.03,119.87 185,121.1C186.97,122.33 189.52,123.78 191.3,125.1C193.08,126.42 194.25,127.72 195.7,129C197.15,130.28 198.57,131.5 200,132.8C201.43,134.1 202.83,135.47 204.3,136.8C205.77,138.13 207.35,139.55 208.8,140.8C210.25,142.05 212.3,143.72 213,144.3" stroke="#f04a4a" stroke-width="0.85" fill="none"/>
<circle cx="163.5" cy="99.8" r="1.12" fill="#e01010"/>
<circle cx="163" cy="103.3" r="1.12" fill="#e01010"/>
<circle cx="164.3" cy="106.5" r="1.12" fill="#e01010"/>
<circle cx="166.8" cy="110.3" r="1.12" fill="#e01010"/>
<circle cx="170.6" cy="112.9" r="1.12" fill="#e01010"/>
<ellipse cx="174" cy="114.8" rx="1.6" ry="0.9" transform="rotate(-25 174 114.8)" fill="#e01818"/>
<ellipse cx="179.5" cy="117.7" rx="1.65" ry="0.95" transform="rotate(-25 179.5 117.7)" fill="#e01818"/>
<ellipse cx="185" cy="121.1" rx="1.7" ry="1" transform="rotate(-25 185 121.1)" fill="#e01818"/>
<ellipse cx="191.3" cy="125.1" rx="2.1" ry="1.4" transform="rotate(-25 191.3 125.1)" fill="#f04040"/>
<ellipse cx="191" cy="124.9" rx="1.16" ry="0.7" transform="rotate(-25 191.3 125.1)" fill="#f25e5e"/>
<ellipse cx="195.7" cy="129" rx="2.14" ry="1.44" transform="rotate(-25 195.7 129)" fill="#f04545"/>
<ellipse cx="195.4" cy="128.8" rx="1.18" ry="0.72" transform="rotate(-25 195.7 129)" fill="#f26262"/>
<ellipse cx="200" cy="132.8" rx="2.18" ry="1.48" transform="rotate(-25 200 132.8)" fill="#f04a4a"/>
<ellipse cx="199.7" cy="132.6" rx="1.2" ry="0.74" transform="rotate(-25 200 132.8)" fill="#f26666"/>
<ellipse cx="204.3" cy="136.8" rx="2.22" ry="1.52" transform="rotate(-25 204.3 136.8)" fill="#f04f4f"/>
<ellipse cx="204" cy="136.6" rx="1.22" ry="0.76" transform="rotate(-25 204.3 136.8)" fill="#f26b6b"/>
<ellipse cx="208.8" cy="140.8" rx="2.26" ry="1.56" transform="rotate(-25 208.8 140.8)" fill="#f05454"/>
<ellipse cx="208.5" cy="140.6" rx="1.24" ry="0.78" transform="rotate(-25 208.8 140.8)" fill="#f26f6f"/>
<ellipse cx="213" cy="144.3" rx="2.3" ry="1.6" transform="rotate(-25 213 144.3)" fill="#f05a5a"/>
<ellipse cx="212.7" cy="144.1" rx="1.26" ry="0.8" transform="rotate(-25 213 144.3)" fill="#f27474"/>
<path d="M255.2,97.9C255.83,97.97 257.72,98.18 259,98.3C260.28,98.42 261.2,98.08 262.9,98.6C264.6,99.12 267.2,100.4 269.2,101.4C271.2,102.4 273.1,103.53 274.9,104.6C276.7,105.67 278.42,106.63 280,107.8C281.58,108.97 282.92,110.23 284.4,111.6C285.88,112.97 287.43,114.57 288.9,116C290.37,117.43 291.82,118.77 293.2,120.2C294.58,121.63 295.82,123.13 297.2,124.6C298.58,126.07 300.05,127.57 301.5,129C302.95,130.43 304.6,131.67 305.9,133.2C307.2,134.73 308.73,137.37 309.3,138.2" stroke="#cdeff0" stroke-width="2.6" fill="none" stroke-linecap="round" stroke-linejoin="round"/>
<path d="M255.2,97.9C255.83,97.97 257.72,98.18 259,98.3C260.28,98.42 261.2,98.08 262.9,98.6C264.6,99.12 267.2,100.4 269.2,101.4C271.2,102.4 273.1,103.53 274.9,104.6C276.7,105.67 278.42,106.63 280,107.8C281.58,108.97 282.92,110.23 284.4,111.6C285.88,112.97 287.43,114.57 288.9,116C290.37,117.43 291.82,118.77 293.2,120.2C294.58,121.63 295.82,123.13 297.2,124.6C298.58,126.07 300.05,127.57 301.5,129C302.95,130.43 304.6,131.67 305.9,133.2C307.2,134.73 308.73,137.37 309.3,138.2" stroke="#f04a4a" stroke-width="0.85" fill="none"/>
<circle cx="255.2" cy="97.9" r="1.12" fill="#e01010"/>
<circle cx="259" cy="98.3" r="1.12" fill="#e01010"/>
<circle cx="262.9" cy="98.6" r="1.12" fill="#e01010"/>
<circle cx="269.2" cy="101.4" r="1.12" fill="#e01010"/>
<circle cx="274.9" cy="104.6" r="1.12" fill="#e01010"/>
<circle cx="280" cy="107.8" r="1.12" fill="#e01010"/>
<circle cx="284.4" cy="111.6" r="1.12" fill="#e01010"/>
<circle cx="288.9" cy="116" r="1.12" fill="#e01010"/>
<circle cx="293.2" cy="120.2" r="1.12" fill="#e01010"/>
<circle cx="297.2" cy="124.6" r="1.12" fill="#e01010"/>
<circle cx="301.5" cy="129" r="1.12" fill="#e01010"/>
<circle cx="305.9" cy="133.2" r="1.12" fill="#e01010"/>
<circle cx="309.3" cy="138.2" r="1.12" fill="#e01010"/>
<path d="M248.6,99.6C248.33,100.12 247.27,101.65 247,102.7C246.73,103.75 246.78,104.85 247,105.9C247.22,106.95 247.77,107.95 248.3,109C248.83,110.05 249.47,111.03 250.2,112.2C250.93,113.37 251.75,114.73 252.7,116C253.65,117.27 254.52,118.38 255.9,119.8C257.28,121.22 259.3,122.95 261,124.5C262.7,126.05 264.52,127.67 266.1,129.1C267.68,130.53 269.02,131.72 270.5,133.1C271.98,134.48 273.4,135.92 275,137.4C276.6,138.88 278.55,140.48 280.1,142C281.65,143.52 283.6,145.75 284.3,146.5" stroke="#f5f0c4" stroke-width="2.6" fill="none" stroke-linecap="round" stroke-linejoin="round"/>
<path d="M248.6,99.6C248.33,100.12 247.27,101.65 247,102.7C246.73,103.75 246.78,104.85 247,105.9C247.22,106.95 247.77,107.95 248.3,109C248.83,110.05 249.47,111.03 250.2,112.2C250.93,113.37 251.75,114.73 252.7,116C253.65,117.27 254.52,118.38 255.9,119.8C257.28,121.22 259.3,122.95 261,124.5C262.7,126.05 264.52,127.67 266.1,129.1C267.68,130.53 269.02,131.72 270.5,133.1C271.98,134.48 273.4,135.92 275,137.4C276.6,138.88 278.55,140.48 280.1,142C281.65,143.52 283.6,145.75 284.3,146.5" stroke="#3848f0" stroke-width="0.85" fill="none"/>
<circle cx="248.6" cy="99.6" r="1.12" fill="#0c14d2"/>
<circle cx="247" cy="102.7" r="1.12" fill="#0c14d2"/>
<circle cx="247" cy="105.9" r="1.12" fill="#0c14d2"/>
<circle cx="248.3" cy="109" r="1.12" fill="#0c14d2"/>
<circle cx="250.2" cy="112.2" r="1.12" fill="#0c14d2"/>
<circle cx="252.7" cy="116" r="1.12" fill="#0c14d2"/>
<circle cx="255.9" cy="119.8" r="1.12" fill="#0c14d2"/>
<circle cx="261" cy="124.5" r="1.12" fill="#0c14d2"/>
<circle cx="266.1" cy="129.1" r="1.12" fill="#0c14d2"/>
<circle cx="270.5" cy="133.1" r="1.12" fill="#0c14d2"/>
<circle cx="275" cy="137.4" r="1.12" fill="#0c14d2"/>
<circle cx="280.1" cy="142" r="1.12" fill="#0c14d2"/>
<circle cx="284.3" cy="146.5" r="1.12" fill="#0c14d2"/>
<path d="M305.5,142C304.7,141.35 302.3,139.38 300.7,138.1C299.1,136.82 297.43,135.57 295.9,134.3C294.37,133.03 293.05,131.75 291.5,130.5C289.95,129.25 288.08,128 286.6,126.8C285.12,125.6 283.9,124.53 282.6,123.3C281.3,122.07 279.87,120.83 278.8,119.4C277.73,117.97 277.08,116.22 276.2,114.7C275.32,113.18 274.45,111.67 273.5,110.3C272.55,108.93 271.75,107.77 270.5,106.5C269.25,105.23 267.58,103.75 266,102.7C264.42,101.65 262.5,100.83 261,100.2C259.5,99.57 257.67,99.12 257,98.9" stroke="#f5f0c4" stroke-width="2.6" fill="none" stroke-linecap="round" stroke-linejoin="round"/>
<path d="M305.5,142C304.7,141.35 302.3,139.38 300.7,138.1C299.1,136.82 297.43,135.57 295.9,134.3C294.37,133.03 293.05,131.75 291.5,130.5C289.95,129.25 288.08,128 286.6,126.8C285.12,125.6 283.9,124.53 282.6,123.3C281.3,122.07 279.87,120.83 278.8,119.4C277.73,117.97 277.08,116.22 276.2,114.7C275.32,113.18 274.45,111.67 273.5,110.3C272.55,108.93 271.75,107.77 270.5,106.5C269.25,105.23 267.58,103.75 266,102.7C264.42,101.65 262.5,100.83 261,100.2C259.5,99.57 257.67,99.12 257,98.9" stroke="#3848f0" stroke-width="0.85" fill="none"/>
<ellipse cx="305.5" cy="142" rx="2.7" ry="3.1" transform="rotate(-30 305.5 142)" fill="#6e7ef2"/>
<ellipse cx="305.2" cy="141.8" rx="1.49" ry="1.55" transform="rotate(-30 305.5 142)" fill="#8592f4"/>
<ellipse cx="300.7" cy="138.1" rx="2.43" ry="1.73" transform="rotate(-25 300.7 138.1)" fill="#5565f0"/>
<ellipse cx="300.4" cy="137.9" rx="1.34" ry="0.86" transform="rotate(-25 300.7 138.1)" fill="#707df2"/>
<ellipse cx="295.9" cy="134.3" rx="2.36" ry="1.66" transform="rotate(-25 295.9 134.3)" fill="#5060f0"/>
<ellipse cx="295.6" cy="134.1" rx="1.3" ry="0.83" transform="rotate(-25 295.9 134.3)" fill="#6c79f2"/>
<ellipse cx="291.5" cy="130.5" rx="2.29" ry="1.59" transform="rotate(-25 291.5 130.5)" fill="#4b5bf0"/>
<ellipse cx="291.2" cy="130.3" rx="1.26" ry="0.79" transform="rotate(-25 291.5 130.5)" fill="#6775f2"/>
<ellipse cx="286.6" cy="126.8" rx="2.21" ry="1.51" transform="rotate(-25 286.6 126.8)" fill="#4656f0"/>
<ellipse cx="286.3" cy="126.6" rx="1.22" ry="0.76" transform="rotate(-25 286.6 126.8)" fill="#6371f2"/>
<ellipse cx="282.6" cy="123.3" rx="2.14" ry="1.44" transform="rotate(-25 282.6 123.3)" fill="#4151f0"/>
<ellipse cx="282.3" cy="123.1" rx="1.18" ry="0.72" transform="rotate(-25 282.6 123.3)" fill="#5f6cf2"/>
<ellipse cx="278.8" cy="119.4" rx="2.07" ry="1.37" transform="rotate(-25 278.8 119.4)" fill="#3c4cf0"/>
<ellipse cx="278.5" cy="119.2" rx="1.14" ry="0.69" transform="rotate(-25 278.8 119.4)" fill="#5b68f2"/>
<ellipse cx="276.2" cy="114.7" rx="2" ry="1.3" transform="rotate(-25 276.2 114.7)" fill="#3848f0"/>
<ellipse cx="275.9" cy="114.5" rx="1.1" ry="0.65" transform="rotate(-25 276.2 114.7)" fill="#5765f2"/>
<circle cx="273.5" cy="110.3" r="1.12" fill="#0c14d2"/>
<circle cx="270.5" cy="106.5" r="1.12" fill="#0c14d2"/>
<circle cx="266" cy="102.7" r="1.12" fill="#0c14d2"/>
<circle cx="261" cy="100.2" r="1.12" fill="#0c14d2"/>
<circle cx="257" cy="98.9" r="1.12" fill="#0c14d2"/>
<path d="M248.6,101.8C248.55,102.27 248.03,103.6 248.3,104.6C248.57,105.6 249.37,106.73 250.2,107.8C251.03,108.87 251.93,109.9 253.3,111C254.67,112.1 256.5,113.28 258.4,114.4C260.3,115.52 262.63,116.58 264.7,117.7C266.77,118.82 268.77,119.87 270.8,121.1C272.83,122.33 275.25,123.8 276.9,125.1C278.55,126.4 279.33,127.67 280.7,128.9C282.07,130.13 283.8,131.18 285.1,132.5C286.4,133.82 287.25,135.47 288.5,136.8C289.75,138.13 291.05,139.2 292.6,140.5C294.15,141.8 296.93,143.92 297.8,144.6" stroke="#cdeff0" stroke-width="2.6" fill="none" stroke-linecap="round" stroke-linejoin="round"/>
<path d="M248.6,101.8C248.55,102.27 248.03,103.6 248.3,104.6C248.57,105.6 249.37,106.73 250.2,107.8C251.03,108.87 251.93,109.9 253.3,111C254.67,112.1 256.5,113.28 258.4,114.4C260.3,115.52 262.63,116.58 264.7,117.7C266.77,118.82 268.77,119.87 270.8,121.1C272.83,122.33 275.25,123.8 276.9,125.1C278.55,126.4 279.33,127.67 280.7,128.9C282.07,130.13 283.8,131.18 285.1,132.5C286.4,133.82 287.25,135.47 288.5,136.8C289.75,138.13 291.05,139.2 292.6,140.5C294.15,141.8 296.93,143.92 297.8,144.6" stroke="#f04a4a" stroke-width="0.85" fill="none"/>
<circle cx="248.6" cy="101.8" r="1.12" fill="#e01010"/>
<circle cx="248.3" cy="104.6" r="1.12" fill="#e01010"/>
<circle cx="250.2" cy="107.8" r="1.12" fill="#e01010"/>
<circle cx="253.3" cy="111" r="1.12" fill="#e01010"/>
<ellipse cx="258.4" cy="114.4" rx="1.6" ry="0.9" transform="rotate(-25 258.4 114.4)" fill="#e01818"/>
<ellipse cx="264.7" cy="117.7" rx="1.65" ry="0.95" transform="rotate(-25 264.7 117.7)" fill="#e01818"/>
<ellipse cx="270.8" cy="121.1" rx="1.7" ry="1" transform="rotate(-25 270.8 121.1)" fill="#e01818"/>
<ellipse cx="276.9" cy="125.1" rx="2.3" ry="1.7" transform="rotate(-25 276.9 125.1)" fill="#f05a64"/>
<ellipse cx="276.6" cy="124.9" rx="1.26" ry="0.85" transform="rotate(-25 276.9 125.1)" fill="#f2747c"/>
<ellipse cx="280.7" cy="128.9" rx="2.38" ry="1.84" transform="rotate(-25 280.7 128.9)" fill="#f06069"/>
<ellipse cx="280.4" cy="128.7" rx="1.31" ry="0.92" transform="rotate(-25 280.7 128.9)" fill="#f27981"/>
<ellipse cx="285.1" cy="132.5" rx="2.46" ry="1.98" transform="rotate(-25 285.1 132.5)" fill="#f0666f"/>
<ellipse cx="284.8" cy="132.3" rx="1.35" ry="0.99" transform="rotate(-25 285.1 132.5)" fill="#f27e86"/>
<ellipse cx="288.5" cy="136.8" rx="2.54" ry="2.12" transform="rotate(-25 288.5 136.8)" fill="#f16d74"/>
<ellipse cx="288.2" cy="136.6" rx="1.4" ry="1.06" transform="rotate(-25 288.5 136.8)" fill="#f3848a"/>
<ellipse cx="292.6" cy="140.5" rx="2.62" ry="2.26" transform="rotate(-25 292.6 140.5)" fill="#f1737a"/>
<ellipse cx="292.3" cy="140.3" rx="1.44" ry="1.13" transform="rotate(-25 292.6 140.5)" fill="#f3898f"/>
<ellipse cx="297.8" cy="144.6" rx="2.7" ry="2.4" transform="rotate(-25 297.8 144.6)" fill="#f27a80"/>
<ellipse cx="297.5" cy="144.4" rx="1.49" ry="1.2" transform="rotate(-25 297.8 144.6)" fill="#f48f94"/>
<path d="M165.5,176.1C166.13,176.03 168.03,175.77 169.3,175.7C170.57,175.63 171.93,175.63 173.1,175.7C174.27,175.77 175.02,175.88 176.3,176.1C177.58,176.32 179.1,176.5 180.8,177C182.5,177.5 184.6,178.25 186.5,179.1C188.4,179.95 190.37,180.9 192.2,182.1C194.03,183.3 196.02,184.93 197.5,186.3C198.98,187.67 199.92,188.85 201.1,190.3C202.28,191.75 203.43,193.45 204.6,195C205.77,196.55 206.87,198.07 208.1,199.6C209.33,201.13 210.68,202.58 212,204.2C213.32,205.82 214.58,207.67 216,209.3C217.42,210.93 219.07,212.52 220.5,214C221.93,215.48 223.17,216.7 224.6,218.2C226.03,219.7 228.35,222.2 229.1,223" stroke="#cdeff0" stroke-width="2.6" fill="none" stroke-linecap="round" stroke-linejoin="round"/>
<path d="M165.5,176.1C166.13,176.03 168.03,175.77 169.3,175.7C170.57,175.63 171.93,175.63 173.1,175.7C174.27,175.77 175.02,175.88 176.3,176.1C177.58,176.32 179.1,176.5 180.8,177C182.5,177.5 184.6,178.25 186.5,179.1C188.4,179.95 190.37,180.9 192.2,182.1C194.03,183.3 196.02,184.93 197.5,186.3C198.98,187.67 199.92,188.85 201.1,190.3C202.28,191.75 203.43,193.45 204.6,195C205.77,196.55 206.87,198.07 208.1,199.6C209.33,201.13 210.68,202.58 212,204.2C213.32,205.82 214.58,207.67 216,209.3C217.42,210.93 219.07,212.52 220.5,214C221.93,215.48 223.17,216.7 224.6,218.2C226.03,219.7 228.35,222.2 229.1,223" stroke="#f04a4a" stroke-width="0.85" fill="none"/>
<circle cx="165.5" cy="176.1" r="1.12" fill="#e01010"/>
<circle cx="169.3" cy="175.7" r="1.12" fill="#e01010"/>
<circle cx="173.1" cy="175.7" r="1.12" fill="#e01010"/>
<circle cx="176.3" cy="176.1" r="1.12" fill="#e01010"/>
<circle cx="180.8" cy="177" r="1.12" fill="#e01010"/>
<circle cx="186.5" cy="179.1" r="1.12" fill="#e01010"/>
<circle cx="192.2" cy="182.1" r="1.12" fill="#e01010"/>
<circle cx="197.5" cy="186.3" r="1.12" fill="#e01010"/>
<circle cx="201.1" cy="190.3" r="1.12" fill="#e01010"/>
<circle cx="204.6" cy="195" r="1.12" fill="#e01010"/>
<circle cx="208.1" cy="199.6" r="1.12" fill="#e01010"/>
<circle cx="212" cy="204.2" r="1.12" fill="#e01010"/>
<circle cx="216" cy="209.3" r="1.12" fill="#e01010"/>
<circle cx="220.5" cy="214" r="1.12" fill="#e01010"/>
<circle cx="224.6" cy="218.2" r="1.12" fill="#e01010"/>
<circle cx="229.1" cy="223" r="1.12" fill="#e01010"/>
<path d="M220.5,218.2C219.82,217.62 217.83,215.82 216.4,214.7C214.97,213.58 213.38,212.67 211.9,211.5C210.42,210.33 208.98,208.93 207.5,207.7C206.02,206.47 204.6,205.28 203,204.1C201.4,202.92 199.38,201.77 197.9,200.6C196.42,199.43 195.05,198.2 194.1,197.1C193.15,196 192.8,195.02 192.2,194C191.6,192.98 190.92,192.03 190.5,191C190.08,189.97 190.48,188.87 189.7,187.8C188.92,186.73 187.18,185.67 185.8,184.6C184.42,183.53 182.87,182.35 181.4,181.4C179.93,180.45 178.57,179.57 177,178.9C175.43,178.23 173.67,177.65 172,177.4C170.33,177.15 168.5,177.15 167,177.4C165.5,177.65 164.1,178.23 163,178.9C161.9,179.57 160.93,180.45 160.4,181.4C159.87,182.35 159.8,183.43 159.8,184.6C159.8,185.77 159.98,187.13 160.4,188.4C160.82,189.67 161.45,190.93 162.3,192.2C163.15,193.47 164.18,194.7 165.5,196C166.82,197.3 168.5,198.58 170.2,200C171.9,201.42 173.93,203.12 175.7,204.5C177.47,205.88 179.1,206.92 180.8,208.3C182.5,209.68 184.25,211.35 185.9,212.8C187.55,214.25 189.12,215.52 190.7,217C192.28,218.48 193.87,220.18 195.4,221.7C196.93,223.22 198.42,224.62 199.9,226.1C201.38,227.58 203.57,229.85 204.3,230.6" stroke="#f5f0c4" stroke-width="2.6" fill="none" stroke-linecap="round" stroke-linejoin="round"/>
<path d="M220.5,218.2C219.82,217.62 217.83,215.82 216.4,214.7C214.97,213.58 213.38,212.67 211.9,211.5C210.42,210.33 208.98,208.93 207.5,207.7C206.02,206.47 204.6,205.28 203,204.1C201.4,202.92 199.38,201.77 197.9,200.6C196.42,199.43 195.05,198.2 194.1,197.1C193.15,196 192.8,195.02 192.2,194C191.6,192.98 190.92,192.03 190.5,191C190.08,189.97 190.48,188.87 189.7,187.8C188.92,186.73 187.18,185.67 185.8,184.6C184.42,183.53 182.87,182.35 181.4,181.4C179.93,180.45 178.57,179.57 177,178.9C175.43,178.23 173.67,177.65 172,177.4C170.33,177.15 168.5,177.15 167,177.4C165.5,177.65 164.1,178.23 163,178.9C161.9,179.57 160.93,180.45 160.4,181.4C159.87,182.35 159.8,183.43 159.8,184.6C159.8,185.77 159.98,187.13 160.4,188.4C160.82,189.67 161.45,190.93 162.3,192.2C163.15,193.47 164.18,194.7 165.5,196C166.82,197.3 168.5,198.58 170.2,200C171.9,201.42 173.93,203.12 175.7,204.5C177.47,205.88 179.1,206.92 180.8,208.3C182.5,209.68 184.25,211.35 185.9,212.8C187.55,214.25 189.12,215.52 190.7,217C192.28,218.48 193.87,220.18 195.4,221.7C196.93,223.22 198.42,224.62 199.9,226.1C201.38,227.58 203.57,229.85 204.3,230.6" stroke="#3848f0" stroke-width="0.85" fill="none"/>
<ellipse cx="220.5" cy="218.2" rx="2.8" ry="2.3" transform="rotate(-28 220.5 218.2)" fill="#3a4af0"/>
<ellipse cx="220.2" cy="218" rx="1.54" ry="1.15" transform="rotate(-28 220.5 218.2)" fill="#5966f2"/>
<ellipse cx="216.4" cy="214.7" rx="2.78" ry="2.18" transform="rotate(-26.33 216.4 214.7)" fill="#3646ef"/>
<ellipse cx="216.1" cy="214.5" rx="1.53" ry="1.09" transform="rotate(-26.33 216.4 214.7)" fill="#5663f1"/>
<ellipse cx="211.9" cy="211.5" rx="2.77" ry="2.07" transform="rotate(-24.67 211.9 211.5)" fill="#3242ee"/>
<ellipse cx="211.6" cy="211.3" rx="1.52" ry="1.03" transform="rotate(-24.67 211.9 211.5)" fill="#5260f0"/>
<ellipse cx="207.5" cy="207.7" rx="2.75" ry="1.95" transform="rotate(-23 207.5 207.7)" fill="#2e3eee"/>
<ellipse cx="207.2" cy="207.5" rx="1.51" ry="0.97" transform="rotate(-23 207.5 207.7)" fill="#4f5cf0"/>
<ellipse cx="203" cy="204.1" rx="2.73" ry="1.83" transform="rotate(-21.33 203 204.1)" fill="#2a3aed"/>
<ellipse cx="202.7" cy="203.9" rx="1.5" ry="0.92" transform="rotate(-21.33 203 204.1)" fill="#4c59ef"/>
<ellipse cx="197.9" cy="200.6" rx="2.72" ry="1.72" transform="rotate(-19.67 197.9 200.6)" fill="#2636ec"/>
<ellipse cx="197.6" cy="200.4" rx="1.49" ry="0.86" transform="rotate(-19.67 197.9 200.6)" fill="#4856ef"/>
<ellipse cx="194.1" cy="197.1" rx="2.7" ry="1.6" transform="rotate(-18 194.1 197.1)" fill="#2232ec"/>
<ellipse cx="193.8" cy="196.9" rx="1.49" ry="0.8" transform="rotate(-18 194.1 197.1)" fill="#4552ef"/>
<ellipse cx="192.2" cy="194" rx="2.6" ry="1.1" transform="rotate(-50 192.2 194)" fill="#1626e8"/>
<ellipse cx="191.9" cy="193.8" rx="1.43" ry="0.55" transform="rotate(-50 192.2 194)" fill="#3b48eb"/>
<ellipse cx="190.5" cy="191" rx="2.57" ry="1.05" transform="rotate(-52.67 190.5 191)" fill="#1626e8"/>
<ellipse cx="190.2" cy="190.8" rx="1.41" ry="0.53" transform="rotate(-52.67 190.5 191)" fill="#3b48eb"/>
<ellipse cx="189.7" cy="187.8" rx="2.53" ry="1" transform="rotate(-55.33 189.7 187.8)" fill="#1626e8"/>
<ellipse cx="189.4" cy="187.6" rx="1.39" ry="0.5" transform="rotate(-55.33 189.7 187.8)" fill="#3b48eb"/>
<ellipse cx="185.8" cy="184.6" rx="2.5" ry="0.95" transform="rotate(-58 185.8 184.6)" fill="#1626e8"/>
<ellipse cx="185.5" cy="184.4" rx="1.38" ry="0.47" transform="rotate(-58 185.8 184.6)" fill="#3b48eb"/>
<ellipse cx="181.4" cy="181.4" rx="1.5" ry="0.7" transform="rotate(-45 181.4 181.4)" fill="#1828ec"/>
<circle cx="177" cy="178.9" r="1.12" fill="#0c14d2"/>
<circle cx="172" cy="177.4" r="1.12" fill="#0c14d2"/>
<circle cx="167" cy="177.4" r="1.12" fill="#0c14d2"/>
<circle cx="163" cy="178.9" r="1.12" fill="#0c14d2"/>
<circle cx="160.4" cy="181.4" r="1.12" fill="#0c14d2"/>
<circle cx="159.8" cy="184.6" r="1.12" fill="#0c14d2"/>
<circle cx="160.4" cy="188.4" r="1.12" fill="#0c14d2"/>
<circle cx="162.3" cy="192.2" r="1.12" fill="#0c14d2"/>
<circle cx="165.5" cy="196" r="1.12" fill="#0c14d2"/>
<circle cx="170.2" cy="200" r="1.12" fill="#0c14d2"/>
<circle cx="175.7" cy="204.5" r="1.12" fill="#0c14d2"/>
<circle cx="180.8" cy="208.3" r="1.12" fill="#0c14d2"/>
<circle cx="185.9" cy="212.8" r="1.12" fill="#0c14d2"/>
<circle cx="190.7" cy="217" r="1.12" fill="#0c14d2"/>
<circle cx="195.4" cy="221.7" r="1.12" fill="#0c14d2"/>
<circle cx="199.9" cy="226.1" r="1.12" fill="#0c14d2"/>
<circle cx="204.3" cy="230.6" r="1.12" fill="#0c14d2"/>
<path d="M163.2,179.5C163.27,180.03 163.22,181.53 163.6,182.7C163.98,183.87 164.65,185.33 165.5,186.5C166.35,187.67 167.37,188.57 168.7,189.7C170.03,190.83 171.82,192.23 173.5,193.3C175.18,194.37 176.8,195.12 178.8,196.1C180.8,197.08 183.52,198.02 185.5,199.2C187.48,200.38 189.05,201.92 190.7,203.2C192.35,204.48 193.87,205.63 195.4,206.9C196.93,208.17 198.42,209.5 199.9,210.8C201.38,212.1 202.93,213.42 204.3,214.7C205.67,215.98 206.72,217.23 208.1,218.5C209.48,219.77 211.85,221.67 212.6,222.3" stroke="#cdeff0" stroke-width="2.6" fill="none" stroke-linecap="round" stroke-linejoin="round"/>
<path d="M163.2,179.5C163.27,180.03 163.22,181.53 163.6,182.7C163.98,183.87 164.65,185.33 165.5,186.5C166.35,187.67 167.37,188.57 168.7,189.7C170.03,190.83 171.82,192.23 173.5,193.3C175.18,194.37 176.8,195.12 178.8,196.1C180.8,197.08 183.52,198.02 185.5,199.2C187.48,200.38 189.05,201.92 190.7,203.2C192.35,204.48 193.87,205.63 195.4,206.9C196.93,208.17 198.42,209.5 199.9,210.8C201.38,212.1 202.93,213.42 204.3,214.7C205.67,215.98 206.72,217.23 208.1,218.5C209.48,219.77 211.85,221.67 212.6,222.3" stroke="#f04a4a" stroke-width="0.85" fill="none"/>
<circle cx="163.2" cy="179.5" r="1.12" fill="#e01010"/>
<circle cx="163.6" cy="182.7" r="1.12" fill="#e01010"/>
<circle cx="165.5" cy="186.5" r="1.12" fill="#e01010"/>
<circle cx="168.7" cy="189.7" r="1.12" fill="#e01010"/>
<ellipse cx="173.5" cy="193.3" rx="3" ry="1.35" transform="rotate(18 173.5 193.3)" fill="#f01c1c"/>
<ellipse cx="173.2" cy="193.1" rx="1.65" ry="0.68" transform="rotate(18 173.5 193.3)" fill="#f24040"/>
<ellipse cx="178.8" cy="196.1" rx="2.97" ry="1.4" transform="rotate(-1.33 178.8 196.1)" fill="#f02020"/>
<ellipse cx="178.5" cy="195.9" rx="1.63" ry="0.7" transform="rotate(-1.33 178.8 196.1)" fill="#f24343"/>
<ellipse cx="185.5" cy="199.2" rx="2.93" ry="1.45" transform="rotate(-20.67 185.5 199.2)" fill="#f02525"/>
<ellipse cx="185.2" cy="199" rx="1.61" ry="0.72" transform="rotate(-20.67 185.5 199.2)" fill="#f24747"/>
<ellipse cx="190.7" cy="203.2" rx="2.9" ry="1.5" transform="rotate(-40 190.7 203.2)" fill="#f02a2a"/>
<ellipse cx="190.4" cy="203" rx="1.59" ry="0.75" transform="rotate(-40 190.7 203.2)" fill="#f24c4c"/>
<ellipse cx="195.4" cy="206.9" rx="2.7" ry="1.8" transform="rotate(-35 195.4 206.9)" fill="#f03232"/>
<ellipse cx="195.1" cy="206.7" rx="1.49" ry="0.9" transform="rotate(-35 195.4 206.9)" fill="#f25252"/>
<ellipse cx="199.9" cy="210.8" rx="2.75" ry="1.93" transform="rotate(-35 199.9 210.8)" fill="#f03737"/>
<ellipse cx="199.6" cy="210.6" rx="1.51" ry="0.96" transform="rotate(-35 199.9 210.8)" fill="#f25757"/>
<ellipse cx="204.3" cy="214.7" rx="2.8" ry="2.05" transform="rotate(-35 204.3 214.7)" fill="#f13d3d"/>
<ellipse cx="204" cy="214.5" rx="1.54" ry="1.02" transform="rotate(-35 204.3 214.7)" fill="#f35c5c"/>
<ellipse cx="208.1" cy="218.5" rx="2.85" ry="2.17" transform="rotate(-35 208.1 218.5)" fill="#f14242"/>
<ellipse cx="207.8" cy="218.3" rx="1.57" ry="1.09" transform="rotate(-35 208.1 218.5)" fill="#f36060"/>
<ellipse cx="212.6" cy="222.3" rx="2.9" ry="2.3" transform="rotate(-35 212.6 222.3)" fill="#f24848"/>
<ellipse cx="212.3" cy="222.1" rx="1.59" ry="1.15" transform="rotate(-35 212.6 222.3)" fill="#f46565"/>
<path d="M249.5,177C250.03,176.88 251.53,176.42 252.7,176.3C253.87,176.18 255.23,176.18 256.5,176.3C257.77,176.42 258.92,176.67 260.3,177C261.68,177.33 263.22,177.77 264.8,178.3C266.38,178.83 268.12,179.47 269.8,180.2C271.48,180.93 273.3,181.87 274.9,182.7C276.5,183.53 278.02,184.35 279.4,185.2C280.78,186.05 282.57,187.37 283.2,187.8" stroke="#cdeff0" stroke-width="2.6" fill="none" stroke-linecap="round" stroke-linejoin="round"/>
<path d="M249.5,177C250.03,176.88 251.53,176.42 252.7,176.3C253.87,176.18 255.23,176.18 256.5,176.3C257.77,176.42 258.92,176.67 260.3,177C261.68,177.33 263.22,177.77 264.8,178.3C266.38,178.83 268.12,179.47 269.8,180.2C271.48,180.93 273.3,181.87 274.9,182.7C276.5,183.53 278.02,184.35 279.4,185.2C280.78,186.05 282.57,187.37 283.2,187.8" stroke="#f04a4a" stroke-width="0.85" fill="none"/>
<circle cx="249.5" cy="177" r="1.12" fill="#e01010"/>
<circle cx="252.7" cy="176.3" r="1.12" fill="#e01010"/>
<circle cx="256.5" cy="176.3" r="1.12" fill="#e01010"/>
<circle cx="260.3" cy="177" r="1.12" fill="#e01010"/>
<circle cx="264.8" cy="178.3" r="1.12" fill="#e01010"/>
<circle cx="269.8" cy="180.2" r="1.12" fill="#e01010"/>
<circle cx="274.9" cy="182.7" r="1.12" fill="#e01010"/>
<circle cx="279.4" cy="185.2" r="1.12" fill="#e01010"/>
<circle cx="283.2" cy="187.8" r="1.12" fill="#e01010"/>
<path d="M305.5,219.1C304.75,218.42 302.6,216.22 301,215C299.4,213.78 297.48,212.92 295.9,211.8C294.32,210.68 292.98,209.52 291.5,208.3C290.02,207.08 288.48,205.78 287,204.5C285.52,203.22 283.97,201.78 282.6,200.6C281.23,199.42 279.77,198.58 278.8,197.4C277.83,196.22 277.33,194.57 276.8,193.5C276.27,192.43 276.12,191.82 275.6,191C275.08,190.18 274.55,189.57 273.7,188.6C272.85,187.63 271.78,186.28 270.5,185.2C269.22,184.12 267.38,182.93 266,182.1C264.62,181.27 263.7,180.78 262.2,180.2C260.7,179.62 258.78,178.93 257,178.6C255.22,178.27 253.17,178.05 251.5,178.2C249.83,178.35 247.97,178.75 247,179.5C246.03,180.25 245.82,181.53 245.7,182.7C245.58,183.87 245.98,185.23 246.3,186.5C246.62,187.77 247.07,189.13 247.6,190.3C248.13,191.47 248.75,192.43 249.5,193.5C250.25,194.57 251.67,196.17 252.1,196.7" stroke="#f5f0c4" stroke-width="2.6" fill="none" stroke-linecap="round" stroke-linejoin="round"/>
<path d="M305.5,219.1C304.75,218.42 302.6,216.22 301,215C299.4,213.78 297.48,212.92 295.9,211.8C294.32,210.68 292.98,209.52 291.5,208.3C290.02,207.08 288.48,205.78 287,204.5C285.52,203.22 283.97,201.78 282.6,200.6C281.23,199.42 279.77,198.58 278.8,197.4C277.83,196.22 277.33,194.57 276.8,193.5C276.27,192.43 276.12,191.82 275.6,191C275.08,190.18 274.55,189.57 273.7,188.6C272.85,187.63 271.78,186.28 270.5,185.2C269.22,184.12 267.38,182.93 266,182.1C264.62,181.27 263.7,180.78 262.2,180.2C260.7,179.62 258.78,178.93 257,178.6C255.22,178.27 253.17,178.05 251.5,178.2C249.83,178.35 247.97,178.75 247,179.5C246.03,180.25 245.82,181.53 245.7,182.7C245.58,183.87 245.98,185.23 246.3,186.5C246.62,187.77 247.07,189.13 247.6,190.3C248.13,191.47 248.75,192.43 249.5,193.5C250.25,194.57 251.67,196.17 252.1,196.7" stroke="#3848f0" stroke-width="0.85" fill="none"/>
<ellipse cx="305.5" cy="219.1" rx="3.1" ry="2.6" transform="rotate(-30 305.5 219.1)" fill="#4252f0"/>
<ellipse cx="305.2" cy="218.9" rx="1.71" ry="1.3" transform="rotate(-30 305.5 219.1)" fill="#606df2"/>
<ellipse cx="301" cy="215" rx="2.98" ry="2.45" transform="rotate(-28.33 301 215)" fill="#3d4def"/>
<ellipse cx="300.7" cy="214.8" rx="1.64" ry="1.23" transform="rotate(-28.33 301 215)" fill="#5c69f1"/>
<ellipse cx="295.9" cy="211.8" rx="2.87" ry="2.3" transform="rotate(-26.67 295.9 211.8)" fill="#3848ee"/>
<ellipse cx="295.6" cy="211.6" rx="1.58" ry="1.15" transform="rotate(-26.67 295.9 211.8)" fill="#5765f0"/>
<ellipse cx="291.5" cy="208.3" rx="2.75" ry="2.15" transform="rotate(-25 291.5 208.3)" fill="#3343ee"/>
<ellipse cx="291.2" cy="208.1" rx="1.51" ry="1.07" transform="rotate(-25 291.5 208.3)" fill="#5361f0"/>
<ellipse cx="287" cy="204.5" rx="2.63" ry="2" transform="rotate(-23.33 287 204.5)" fill="#2e3eed"/>
<ellipse cx="286.7" cy="204.3" rx="1.45" ry="1" transform="rotate(-23.33 287 204.5)" fill="#4f5cef"/>
<ellipse cx="282.6" cy="200.6" rx="2.52" ry="1.85" transform="rotate(-21.67 282.6 200.6)" fill="#2939ec"/>
<ellipse cx="282.3" cy="200.4" rx="1.38" ry="0.93" transform="rotate(-21.67 282.6 200.6)" fill="#4b58ef"/>
<ellipse cx="278.8" cy="197.4" rx="2.4" ry="1.7" transform="rotate(-20 278.8 197.4)" fill="#2535ec"/>
<ellipse cx="278.5" cy="197.2" rx="1.32" ry="0.85" transform="rotate(-20 278.8 197.4)" fill="#4755ef"/>
<ellipse cx="276.8" cy="193.5" rx="2.5" ry="1.1" transform="rotate(-55 276.8 193.5)" fill="#1626e8"/>
<ellipse cx="276.5" cy="193.3" rx="1.38" ry="0.55" transform="rotate(-55 276.8 193.5)" fill="#3b48eb"/>
<ellipse cx="275.6" cy="191" rx="2.45" ry="1.02" transform="rotate(-58.5 275.6 191)" fill="#1626e8"/>
<ellipse cx="275.3" cy="190.8" rx="1.35" ry="0.51" transform="rotate(-58.5 275.6 191)" fill="#3b48eb"/>
<ellipse cx="273.7" cy="188.6" rx="2.4" ry="0.95" transform="rotate(-62 273.7 188.6)" fill="#1626e8"/>
<ellipse cx="273.4" cy="188.4" rx="1.32" ry="0.47" transform="rotate(-62 273.7 188.6)" fill="#3b48eb"/>
<ellipse cx="270.5" cy="185.2" rx="1.7" ry="0.8" transform="rotate(-50 270.5 185.2)" fill="#1a2aec"/>
<ellipse cx="266" cy="182.1" rx="1.5" ry="0.75" transform="rotate(-50 266 182.1)" fill="#1a2aec"/>
<circle cx="262.2" cy="180.2" r="1.12" fill="#0c14d2"/>
<circle cx="257" cy="178.6" r="1.12" fill="#0c14d2"/>
<circle cx="251.5" cy="178.2" r="1.12" fill="#0c14d2"/>
<circle cx="247" cy="179.5" r="1.12" fill="#0c14d2"/>
<circle cx="245.7" cy="182.7" r="1.12" fill="#0c14d2"/>
<circle cx="246.3" cy="186.5" r="1.12" fill="#0c14d2"/>
<circle cx="247.6" cy="190.3" r="1.12" fill="#0c14d2"/>
<circle cx="249.5" cy="193.5" r="1.12" fill="#0c14d2"/>
<circle cx="252.1" cy="196.7" r="1.12" fill="#0c14d2"/>
<path d="M248,180.3C248.05,180.8 247.93,182.27 248.3,183.3C248.67,184.33 249.37,185.55 250.2,186.5C251.03,187.45 252.03,187.83 253.3,189C254.57,190.17 256.05,192.23 257.8,193.5C259.55,194.77 261.68,195.53 263.8,196.6C265.92,197.67 268.5,198.8 270.5,199.9C272.5,201 274.15,202.02 275.8,203.2C277.45,204.38 278.95,205.72 280.4,207C281.85,208.28 283.07,209.65 284.5,210.9C285.93,212.15 287.52,213.27 289,214.5C290.48,215.73 291.93,217 293.4,218.3C294.87,219.6 297.07,221.63 297.8,222.3" stroke="#cdeff0" stroke-width="2.6" fill="none" stroke-linecap="round" stroke-linejoin="round"/>
<path d="M248,180.3C248.05,180.8 247.93,182.27 248.3,183.3C248.67,184.33 249.37,185.55 250.2,186.5C251.03,187.45 252.03,187.83 253.3,189C254.57,190.17 256.05,192.23 257.8,193.5C259.55,194.77 261.68,195.53 263.8,196.6C265.92,197.67 268.5,198.8 270.5,199.9C272.5,201 274.15,202.02 275.8,203.2C277.45,204.38 278.95,205.72 280.4,207C281.85,208.28 283.07,209.65 284.5,210.9C285.93,212.15 287.52,213.27 289,214.5C290.48,215.73 291.93,217 293.4,218.3C294.87,219.6 297.07,221.63 297.8,222.3" stroke="#f04a4a" stroke-width="0.85" fill="none"/>
<circle cx="248" cy="180.3" r="1.12" fill="#e01010"/>
<circle cx="248.3" cy="183.3" r="1.12" fill="#e01010"/>
<circle cx="250.2" cy="186.5" r="1.12" fill="#e01010"/>
<circle cx="253.3" cy="189" r="1.12" fill="#e01010"/>
<ellipse cx="257.8" cy="193.5" rx="3" ry="1.35" transform="rotate(15 257.8 193.5)" fill="#f01c1c"/>
<ellipse cx="257.5" cy="193.3" rx="1.65" ry="0.68" transform="rotate(15 257.8 193.5)" fill="#f24040"/>
<ellipse cx="263.8" cy="196.6" rx="2.97" ry="1.4" transform="rotate(-1.67 263.8 196.6)" fill="#f02121"/>
<ellipse cx="263.5" cy="196.4" rx="1.63" ry="0.7" transform="rotate(-1.67 263.8 196.6)" fill="#f24444"/>
<ellipse cx="270.5" cy="199.9" rx="2.93" ry="1.45" transform="rotate(-18.33 270.5 199.9)" fill="#f02626"/>
<ellipse cx="270.2" cy="199.7" rx="1.61" ry="0.72" transform="rotate(-18.33 270.5 199.9)" fill="#f24848"/>
<ellipse cx="275.8" cy="203.2" rx="2.9" ry="1.5" transform="rotate(-35 275.8 203.2)" fill="#f02c2c"/>
<ellipse cx="275.5" cy="203" rx="1.59" ry="0.75" transform="rotate(-35 275.8 203.2)" fill="#f24d4d"/>
<ellipse cx="280.4" cy="207" rx="2.8" ry="1.9" transform="rotate(-35 280.4 207)" fill="#f03434"/>
<ellipse cx="280.1" cy="206.8" rx="1.54" ry="0.95" transform="rotate(-35 280.4 207)" fill="#f25454"/>
<ellipse cx="284.5" cy="210.9" rx="2.9" ry="2.1" transform="rotate(-35 284.5 210.9)" fill="#f03b3b"/>
<ellipse cx="284.2" cy="210.7" rx="1.59" ry="1.05" transform="rotate(-35 284.5 210.9)" fill="#f25a5a"/>
<ellipse cx="289" cy="214.5" rx="3" ry="2.3" transform="rotate(-35 289 214.5)" fill="#f14242"/>
<ellipse cx="288.7" cy="214.3" rx="1.65" ry="1.15" transform="rotate(-35 289 214.5)" fill="#f36060"/>
<ellipse cx="293.4" cy="218.3" rx="3.1" ry="2.5" transform="rotate(-35 293.4 218.3)" fill="#f14949"/>
<ellipse cx="293.1" cy="218.1" rx="1.71" ry="1.25" transform="rotate(-35 293.4 218.3)" fill="#f36666"/>
<ellipse cx="297.8" cy="222.3" rx="3.2" ry="2.7" transform="rotate(-35 297.8 222.3)" fill="#f25050"/>
<ellipse cx="297.5" cy="222.1" rx="1.76" ry="1.35" transform="rotate(-35 297.8 222.3)" fill="#f46c6c"/>
<text x="121.7" y="17.6" font-family="Liberation Serif, serif" font-size="7.1" fill="#333">(<tspan font-style="italic">a</tspan>)</text>
<text x="207.6" y="17.6" font-family="Liberation Serif, serif" font-size="7.1" fill="#333">(<tspan font-style="italic">b</tspan>)</text>
<text x="121.7" y="94" font-family="Liberation Serif, serif" font-size="7.1" fill="#333">(<tspan font-style="italic">c</tspan>)</text>
<text x="207.6" y="94" font-family="Liberation Serif, serif" font-size="7.1" fill="#333">(<tspan font-style="italic">d</tspan>)</text>
<text x="121.7" y="172.9" font-family="Liberation Serif, serif" font-size="7.1" fill="#333">(<tspan font-style="italic">e</tspan>)</text>
<text x="207.6" y="172.9" font-family="Liberation Serif, serif" font-size="7.1" fill="#333">(<tspan font-style="italic">f</tspan>)</text>
<text transform="translate(139.6 15.7) rotate(-17.5) scale(0.93 1)" font-family="Liberation Sans, sans-serif" font-size="5.7" fill="#2a2a2a" stroke="#2a2a2a" stroke-width="0.05">Laminar, δ/D=0.5</text>
<text transform="translate(220.1 15.5) rotate(-17.5) scale(0.93 1)" font-family="Liberation Sans, sans-serif" font-size="5.7" fill="#2a2a2a" stroke="#2a2a2a" stroke-width="0.05">Turbulent, δ/D=0.5</text>
<text transform="translate(132.6 50.1) rotate(44)" font-family="Liberation Sans, sans-serif" font-size="5.2" fill="#2a2a2a"><tspan font-weight="bold">VR</tspan> =0.23</text>
<text transform="translate(131.6 129.65) rotate(44)" font-family="Liberation Sans, sans-serif" font-size="5.2" fill="#2a2a2a"><tspan font-weight="bold">VR</tspan> =0.46</text>
<text transform="translate(133.5 209.1) rotate(44)" font-family="Liberation Sans, sans-serif" font-size="5.2" fill="#2a2a2a"><tspan font-weight="bold">VR</tspan> =0.91</text>
<text x="137.8" y="30.4" font-family="Liberation Sans, sans-serif" font-size="3" fill="#3a3a3a" text-anchor="middle">-2.0</text>
<text x="146.7" y="38.47" font-family="Liberation Sans, sans-serif" font-size="3" fill="#3a3a3a" text-anchor="middle">-1.0</text>
<text x="155.2" y="46.44" font-family="Liberation Sans, sans-serif" font-size="3" fill="#3a3a3a" text-anchor="middle">0.0</text>
<text x="163.1" y="53.91" font-family="Liberation Sans, sans-serif" font-size="3" fill="#3a3a3a" text-anchor="middle">1.0</text>
<text x="171" y="62.28" font-family="Liberation Sans, sans-serif" font-size="3" fill="#3a3a3a" text-anchor="middle">2.0</text>
<text x="179" y="70.75" font-family="Liberation Sans, sans-serif" font-size="3" fill="#3a3a3a" text-anchor="middle">3.0</text>
<text x="187.2" y="78.82" font-family="Liberation Sans, sans-serif" font-size="3" fill="#3a3a3a" text-anchor="middle">4.0</text>
<text x="203.7" y="78.7" font-family="Liberation Sans, sans-serif" font-size="3" fill="#3a3a3a" text-anchor="middle">1.0</text>
<text x="218.5" y="73.9" font-family="Liberation Sans, sans-serif" font-size="3" fill="#3a3a3a" text-anchor="middle">0.0</text>
<text x="234.8" y="68.7" font-family="Liberation Sans, sans-serif" font-size="3" fill="#3a3a3a" text-anchor="middle">-1.0</text>
<text transform="translate(156.3 57) rotate(45)" font-family="Liberation Sans, sans-serif" font-size="3.6" fill="#555" text-anchor="middle">x/D</text>
<text transform="translate(220.8 78.6) rotate(-20)" font-family="Liberation Sans, sans-serif" font-size="3.9" fill="#555" text-anchor="middle">z/D</text>
<text x="223.1" y="30.4" font-family="Liberation Sans, sans-serif" font-size="3" fill="#3a3a3a" text-anchor="middle">-2.0</text>
<text x="232" y="38.47" font-family="Liberation Sans, sans-serif" font-size="3" fill="#3a3a3a" text-anchor="middle">-1.0</text>
<text x="240.5" y="46.44" font-family="Liberation Sans, sans-serif" font-size="3" fill="#3a3a3a" text-anchor="middle">0.0</text>
<text x="248.4" y="53.91" font-family="Liberation Sans, sans-serif" font-size="3" fill="#3a3a3a" text-anchor="middle">1.0</text>
<text x="256.3" y="62.28" font-family="Liberation Sans, sans-serif" font-size="3" fill="#3a3a3a" text-anchor="middle">2.0</text>
<text x="264.3" y="70.75" font-family="Liberation Sans, sans-serif" font-size="3" fill="#3a3a3a" text-anchor="middle">3.0</text>
<text x="272.5" y="78.82" font-family="Liberation Sans, sans-serif" font-size="3" fill="#3a3a3a" text-anchor="middle">4.0</text>
<text x="288.1" y="78.7" font-family="Liberation Sans, sans-serif" font-size="3" fill="#3a3a3a" text-anchor="middle">1.0</text>
<text x="302.9" y="73.9" font-family="Liberation Sans, sans-serif" font-size="3" fill="#3a3a3a" text-anchor="middle">0.0</text>
<text x="319.2" y="68.7" font-family="Liberation Sans, sans-serif" font-size="3" fill="#3a3a3a" text-anchor="middle">-1.0</text>
<text transform="translate(240.7 57) rotate(45)" font-family="Liberation Sans, sans-serif" font-size="3.6" fill="#555" text-anchor="middle">x/D</text>
<text transform="translate(305.2 78.6) rotate(-20)" font-family="Liberation Sans, sans-serif" font-size="3.9" fill="#555" text-anchor="middle">z/D</text>
<text x="137.8" y="109.45" font-family="Liberation Sans, sans-serif" font-size="3" fill="#3a3a3a" text-anchor="middle">-2.0</text>
<text x="146.7" y="117.52" font-family="Liberation Sans, sans-serif" font-size="3" fill="#3a3a3a" text-anchor="middle">-1.0</text>
<text x="155.2" y="125.49" font-family="Liberation Sans, sans-serif" font-size="3" fill="#3a3a3a" text-anchor="middle">0.0</text>
<text x="163.1" y="132.96" font-family="Liberation Sans, sans-serif" font-size="3" fill="#3a3a3a" text-anchor="middle">1.0</text>
<text x="171" y="141.33" font-family="Liberation Sans, sans-serif" font-size="3" fill="#3a3a3a" text-anchor="middle">2.0</text>
<text x="179" y="149.8" font-family="Liberation Sans, sans-serif" font-size="3" fill="#3a3a3a" text-anchor="middle">3.0</text>
<text x="187.2" y="157.87" font-family="Liberation Sans, sans-serif" font-size="3" fill="#3a3a3a" text-anchor="middle">4.0</text>
<text x="203.7" y="157.75" font-family="Liberation Sans, sans-serif" font-size="3" fill="#3a3a3a" text-anchor="middle">1.0</text>
<text x="218.5" y="152.95" font-family="Liberation Sans, sans-serif" font-size="3" fill="#3a3a3a" text-anchor="middle">0.0</text>
<text x="234.8" y="147.75" font-family="Liberation Sans, sans-serif" font-size="3" fill="#3a3a3a" text-anchor="middle">-1.0</text>
<text transform="translate(156.3 136.05) rotate(45)" font-family="Liberation Sans, sans-serif" font-size="3.6" fill="#555" text-anchor="middle">x/D</text>
<text transform="translate(220.8 157.65) rotate(-20)" font-family="Liberation Sans, sans-serif" font-size="3.9" fill="#555" text-anchor="middle">z/D</text>
<text x="223.1" y="109.45" font-family="Liberation Sans, sans-serif" font-size="3" fill="#3a3a3a" text-anchor="middle">-2.0</text>
<text x="232" y="117.52" font-family="Liberation Sans, sans-serif" font-size="3" fill="#3a3a3a" text-anchor="middle">-1.0</text>
<text x="240.5" y="125.49" font-family="Liberation Sans, sans-serif" font-size="3" fill="#3a3a3a" text-anchor="middle">0.0</text>
<text x="248.4" y="132.96" font-family="Liberation Sans, sans-serif" font-size="3" fill="#3a3a3a" text-anchor="middle">1.0</text>
<text x="256.3" y="141.33" font-family="Liberation Sans, sans-serif" font-size="3" fill="#3a3a3a" text-anchor="middle">2.0</text>
<text x="264.3" y="149.8" font-family="Liberation Sans, sans-serif" font-size="3" fill="#3a3a3a" text-anchor="middle">3.0</text>
<text x="272.5" y="157.87" font-family="Liberation Sans, sans-serif" font-size="3" fill="#3a3a3a" text-anchor="middle">4.0</text>
<text x="288.1" y="157.75" font-family="Liberation Sans, sans-serif" font-size="3" fill="#3a3a3a" text-anchor="middle">1.0</text>
<text x="302.9" y="152.95" font-family="Liberation Sans, sans-serif" font-size="3" fill="#3a3a3a" text-anchor="middle">0.0</text>
<text x="319.2" y="147.75" font-family="Liberation Sans, sans-serif" font-size="3" fill="#3a3a3a" text-anchor="middle">-1.0</text>
<text transform="translate(240.7 136.05) rotate(45)" font-family="Liberation Sans, sans-serif" font-size="3.6" fill="#555" text-anchor="middle">x/D</text>
<text transform="translate(305.2 157.65) rotate(-20)" font-family="Liberation Sans, sans-serif" font-size="3.9" fill="#555" text-anchor="middle">z/D</text>
<text x="137.8" y="188.5" font-family="Liberation Sans, sans-serif" font-size="3" fill="#3a3a3a" text-anchor="middle">-2.0</text>
<text x="146.7" y="196.57" font-family="Liberation Sans, sans-serif" font-size="3" fill="#3a3a3a" text-anchor="middle">-1.0</text>
<text x="155.2" y="204.54" font-family="Liberation Sans, sans-serif" font-size="3" fill="#3a3a3a" text-anchor="middle">0.0</text>
<text x="163.1" y="212.01" font-family="Liberation Sans, sans-serif" font-size="3" fill="#3a3a3a" text-anchor="middle">1.0</text>
<text x="171" y="220.38" font-family="Liberation Sans, sans-serif" font-size="3" fill="#3a3a3a" text-anchor="middle">2.0</text>
<text x="179" y="228.85" font-family="Liberation Sans, sans-serif" font-size="3" fill="#3a3a3a" text-anchor="middle">3.0</text>
<text x="187.2" y="236.92" font-family="Liberation Sans, sans-serif" font-size="3" fill="#3a3a3a" text-anchor="middle">4.0</text>
<text x="203.7" y="236.8" font-family="Liberation Sans, sans-serif" font-size="3" fill="#3a3a3a" text-anchor="middle">1.0</text>
<text x="218.5" y="232" font-family="Liberation Sans, sans-serif" font-size="3" fill="#3a3a3a" text-anchor="middle">0.0</text>
<text x="234.8" y="226.8" font-family="Liberation Sans, sans-serif" font-size="3" fill="#3a3a3a" text-anchor="middle">-1.0</text>
<text transform="translate(156.3 215.1) rotate(45)" font-family="Liberation Sans, sans-serif" font-size="3.6" fill="#555" text-anchor="middle">x/D</text>
<text transform="translate(220.8 236.7) rotate(-20)" font-family="Liberation Sans, sans-serif" font-size="3.9" fill="#555" text-anchor="middle">z/D</text>
<text x="223.1" y="188.5" font-family="Liberation Sans, sans-serif" font-size="3" fill="#3a3a3a" text-anchor="middle">-2.0</text>
<text x="232" y="196.57" font-family="Liberation Sans, sans-serif" font-size="3" fill="#3a3a3a" text-anchor="middle">-1.0</text>
<text x="240.5" y="204.54" font-family="Liberation Sans, sans-serif" font-size="3" fill="#3a3a3a" text-anchor="middle">0.0</text>
<text x="248.4" y="212.01" font-family="Liberation Sans, sans-serif" font-size="3" fill="#3a3a3a" text-anchor="middle">1.0</text>
<text x="256.3" y="220.38" font-family="Liberation Sans, sans-serif" font-size="3" fill="#3a3a3a" text-anchor="middle">2.0</text>
<text x="264.3" y="228.85" font-family="Liberation Sans, sans-serif" font-size="3" fill="#3a3a3a" text-anchor="middle">3.0</text>
<text x="272.5" y="236.92" font-family="Liberation Sans, sans-serif" font-size="3" fill="#3a3a3a" text-anchor="middle">4.0</text>
<text x="288.1" y="236.8" font-family="Liberation Sans, sans-serif" font-size="3" fill="#3a3a3a" text-anchor="middle">1.0</text>
<text x="302.9" y="232" font-family="Liberation Sans, sans-serif" font-size="3" fill="#3a3a3a" text-anchor="middle">0.0</text>
<text x="319.2" y="226.8" font-family="Liberation Sans, sans-serif" font-size="3" fill="#3a3a3a" text-anchor="middle">-1.0</text>
<text transform="translate(240.7 215.1) rotate(45)" font-family="Liberation Sans, sans-serif" font-size="3.6" fill="#555" text-anchor="middle">x/D</text>
<text transform="translate(305.2 236.7) rotate(-20)" font-family="Liberation Sans, sans-serif" font-size="3.9" fill="#555" text-anchor="middle">z/D</text>
<defs><linearGradient id="cb" x1="0" x2="1" y1="0" y2="0"><stop offset="0" stop-color="#0c0c88"/><stop offset="0.18" stop-color="#0a14ee"/><stop offset="0.5" stop-color="#ffffff"/><stop offset="0.82" stop-color="#f00a0a"/><stop offset="1" stop-color="#880000"/></linearGradient></defs>
<rect x="252.9" y="244" width="66.6" height="3.4" fill="url(#cb)"/>
<rect x="257" y="246.6" width="0.4" height="0.8" fill="#333"/>
<text x="257.2" y="251.3" font-family="Liberation Sans, sans-serif" font-size="2.7" fill="#777" text-anchor="middle">-10</text>
<rect x="271.8" y="246.6" width="0.4" height="0.8" fill="#333"/>
<text x="272" y="251.3" font-family="Liberation Sans, sans-serif" font-size="2.7" fill="#777" text-anchor="middle">-5</text>
<rect x="286.1" y="246.6" width="0.4" height="0.8" fill="#333"/>
<text x="286.3" y="251.3" font-family="Liberation Sans, sans-serif" font-size="2.7" fill="#777" text-anchor="middle">0</text>
<rect x="300.8" y="246.6" width="0.4" height="0.8" fill="#333"/>
<text x="301" y="251.3" font-family="Liberation Sans, sans-serif" font-size="2.7" fill="#777" text-anchor="middle">5</text>
<rect x="315.4" y="246.6" width="0.4" height="0.8" fill="#333"/>
<text x="315.6" y="251.3" font-family="Liberation Sans, sans-serif" font-size="2.7" fill="#777" text-anchor="middle">10</text>
<text x="239.9" y="248.2" font-family="Liberation Serif, serif" font-size="8.1" fill="#222" stroke="#222" stroke-width="0.12">Ω</text>
<text x="243.0" y="243.4" font-family="Liberation Sans, sans-serif" font-size="8" fill="#333" stroke="#333" stroke-width="0.15" text-anchor="middle">~</text>
<text x="246.2" y="249.3" font-family="Liberation Serif, serif" font-size="4.6" font-style="italic" fill="#222">r</text>
</svg></body></html>
